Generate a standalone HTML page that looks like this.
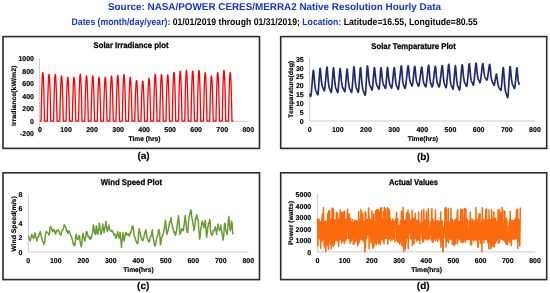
<!DOCTYPE html>
<html><head><meta charset="utf-8"><title>NASA POWER hourly data plots</title>
<style>
html,body{margin:0;padding:0;background:#fff;}
body{width:550px;height:293px;overflow:hidden;}
svg{display:block;font-family:"Liberation Sans", Arial, sans-serif;font-weight:bold;text-rendering:geometricPrecision;}
</style></head><body>
<svg width="550" height="293" viewBox="0 0 550 293">
<rect width="550" height="293" fill="#fff"/>
<text x="108" y="10.4" font-size="10" fill="#1434d6" textLength="333" lengthAdjust="spacingAndGlyphs">Source: NASA/POWER CERES/MERRA2 Native Resolution Hourly Data</text>
<text x="71.6" y="24.5" font-size="9.6" fill="#000" textLength="406" lengthAdjust="spacingAndGlyphs"><tspan fill="#1434d6">Dates (month/day/year):</tspan> 01/01/2019 through 01/31/2019; <tspan fill="#1434d6">Location:</tspan> Latitude=16.55, Longitude=80.55</text>
<g stroke="#000" stroke-width="0.15">
<rect x="3" y="36.6" width="256.5" height="111.8" fill="none" stroke="#2b2b2b" stroke-width="1.6"/>
<rect x="280.7" y="36.6" width="266.0" height="111.8" fill="none" stroke="#2b2b2b" stroke-width="1.6"/>
<rect x="3" y="172.8" width="256.5" height="106.8" fill="none" stroke="#2b2b2b" stroke-width="1.6"/>
<rect x="280.7" y="172.8" width="266.0" height="106.8" fill="none" stroke="#2b2b2b" stroke-width="1.6"/>
<line x1="39.4" y1="58.4" x2="39.4" y2="133.4" stroke="#bfbfbf" stroke-width="0.8"/>
<line x1="39.4" y1="121.3" x2="248.5" y2="121.3" stroke="#bfbfbf" stroke-width="0.8"/>
<polyline points="40.00,121.10 40.07,121.10 40.13,121.10 40.20,121.10 40.26,121.10 40.33,121.10 40.39,121.10 40.46,121.10 40.52,121.10 40.59,121.10 40.65,121.10 40.72,121.10 40.78,121.10 40.85,121.10 40.91,121.10 40.98,121.10 41.04,121.10 41.11,119.08 41.17,115.24 41.24,111.85 41.30,108.70 41.37,105.73 41.43,102.89 41.50,100.19 41.56,97.61 41.63,95.15 41.69,92.80 41.76,90.57 41.82,88.46 41.89,86.48 41.95,84.61 42.02,82.87 42.08,81.26 42.15,79.78 42.21,78.44 42.28,77.22 42.34,76.15 42.41,75.21 42.47,74.42 42.54,73.76 42.60,73.26 42.67,72.89 42.73,72.67 42.80,72.60 42.86,72.67 42.93,72.89 42.99,73.26 43.06,73.76 43.12,74.42 43.19,75.21 43.25,76.15 43.32,77.22 43.38,78.44 43.45,79.78 43.51,81.26 43.58,82.87 43.64,84.61 43.71,86.48 43.77,88.46 43.84,90.57 43.90,92.80 43.97,95.15 44.03,97.61 44.10,100.19 44.16,102.89 44.23,105.73 44.29,108.70 44.36,111.85 44.43,115.24 44.49,119.08 44.56,121.10 44.62,121.10 44.69,121.10 44.75,121.10 44.82,121.10 44.88,121.10 44.95,121.10 45.01,121.10 45.08,121.10 45.14,121.10 45.21,121.10 45.27,121.10 45.34,121.10 45.40,121.10 45.47,121.10 45.53,121.10 45.60,121.10 45.66,121.10 45.73,121.10 45.79,121.10 45.86,121.10 45.92,121.10 45.99,121.10 46.05,121.10 46.12,121.10 46.18,121.10 46.25,121.10 46.31,121.10 46.38,121.10 46.44,121.10 46.51,121.10 46.57,121.10 46.64,121.10 46.70,121.10 46.77,121.10 46.83,121.10 46.90,121.10 46.96,121.10 47.03,121.10 47.09,121.10 47.16,121.10 47.22,121.10 47.29,121.10 47.35,119.15 47.42,115.46 47.48,112.20 47.55,109.17 47.61,106.30 47.68,103.57 47.74,100.97 47.81,98.49 47.87,96.12 47.94,93.86 48.00,91.71 48.07,89.68 48.13,87.77 48.20,85.98 48.26,84.30 48.33,82.75 48.39,81.33 48.46,80.03 48.52,78.86 48.59,77.83 48.65,76.93 48.72,76.16 48.79,75.53 48.85,75.04 48.92,74.69 48.98,74.48 49.05,74.41 49.11,74.48 49.18,74.69 49.24,75.04 49.31,75.53 49.37,76.16 49.44,76.93 49.50,77.83 49.57,78.86 49.63,80.03 49.70,81.33 49.76,82.75 49.83,84.30 49.89,85.98 49.96,87.77 50.02,89.68 50.09,91.71 50.15,93.86 50.22,96.12 50.28,98.49 50.35,100.97 50.41,103.57 50.48,106.30 50.54,109.17 50.61,112.20 50.67,115.46 50.74,119.15 50.80,121.10 50.87,121.10 50.93,121.10 51.00,121.10 51.06,121.10 51.13,121.10 51.19,121.10 51.26,121.10 51.32,121.10 51.39,121.10 51.45,121.10 51.52,121.10 51.58,121.10 51.65,121.10 51.71,121.10 51.78,121.10 51.84,121.10 51.91,121.10 51.97,121.10 52.04,121.10 52.10,121.10 52.17,121.10 52.23,121.10 52.30,121.10 52.36,121.10 52.43,121.10 52.49,121.10 52.56,121.10 52.62,121.10 52.69,121.10 52.75,121.10 52.82,121.10 52.88,121.10 52.95,121.10 53.02,121.10 53.08,121.10 53.15,121.10 53.21,121.10 53.28,121.10 53.34,121.10 53.41,121.10 53.47,121.10 53.54,121.10 53.60,119.15 53.67,115.46 53.73,112.20 53.80,109.17 53.86,106.30 53.93,103.57 53.99,100.97 54.06,98.49 54.12,96.12 54.19,93.86 54.25,91.71 54.32,89.68 54.38,87.77 54.45,85.98 54.51,84.30 54.58,82.75 54.64,81.33 54.71,80.03 54.77,78.86 54.84,77.83 54.90,76.93 54.97,76.16 55.03,75.53 55.10,75.04 55.16,74.69 55.23,74.48 55.29,74.41 55.36,74.48 55.42,74.69 55.49,75.04 55.55,75.53 55.62,76.16 55.68,76.93 55.75,77.83 55.81,78.86 55.88,80.03 55.94,81.33 56.01,82.75 56.07,84.30 56.14,85.98 56.20,87.77 56.27,89.68 56.33,91.71 56.40,93.86 56.46,96.12 56.53,98.49 56.59,100.97 56.66,103.57 56.72,106.30 56.79,109.17 56.85,112.20 56.92,115.46 56.98,119.15 57.05,121.10 57.11,121.10 57.18,121.10 57.24,121.10 57.31,121.10 57.38,121.10 57.44,121.10 57.51,121.10 57.57,121.10 57.64,121.10 57.70,121.10 57.77,121.10 57.83,121.10 57.90,121.10 57.96,121.10 58.03,121.10 58.09,121.10 58.16,121.10 58.22,121.10 58.29,121.10 58.35,121.10 58.42,121.10 58.48,121.10 58.55,121.10 58.61,121.10 58.68,121.10 58.74,121.10 58.81,121.10 58.87,121.10 58.94,121.10 59.00,121.10 59.07,121.10 59.13,121.10 59.20,121.10 59.26,121.10 59.33,121.10 59.39,121.10 59.46,121.10 59.52,121.10 59.59,121.10 59.65,121.10 59.72,121.10 59.78,121.10 59.85,119.22 59.91,115.65 59.98,112.50 60.04,109.57 60.11,106.80 60.17,104.16 60.24,101.64 60.30,99.24 60.37,96.95 60.43,94.77 60.50,92.70 60.56,90.74 60.63,88.89 60.69,87.15 60.76,85.53 60.82,84.04 60.89,82.66 60.95,81.40 61.02,80.28 61.08,79.28 61.15,78.41 61.21,77.67 61.28,77.06 61.34,76.59 61.41,76.25 61.47,76.04 61.54,75.97 61.60,76.04 61.67,76.25 61.74,76.59 61.80,77.06 61.87,77.67 61.93,78.41 62.00,79.28 62.06,80.28 62.13,81.40 62.19,82.66 62.26,84.04 62.32,85.53 62.39,87.15 62.45,88.89 62.52,90.74 62.58,92.70 62.65,94.77 62.71,96.95 62.78,99.24 62.84,101.64 62.91,104.16 62.97,106.80 63.04,109.57 63.10,112.50 63.17,115.65 63.23,119.22 63.30,121.10 63.36,121.10 63.43,121.10 63.49,121.10 63.56,121.10 63.62,121.10 63.69,121.10 63.75,121.10 63.82,121.10 63.88,121.10 63.95,121.10 64.01,121.10 64.08,121.10 64.14,121.10 64.21,121.10 64.27,121.10 64.34,121.10 64.40,121.10 64.47,121.10 64.53,121.10 64.60,121.10 64.66,121.10 64.73,121.10 64.79,121.10 64.86,121.10 64.92,121.10 64.99,121.10 65.05,121.10 65.12,121.10 65.18,121.10 65.25,121.10 65.31,121.10 65.38,121.10 65.44,121.10 65.51,121.10 65.57,121.10 65.64,121.10 65.70,121.10 65.77,121.10 65.83,121.10 65.90,121.10 65.96,121.10 66.03,121.10 66.10,119.27 66.16,115.81 66.23,112.75 66.29,109.90 66.36,107.21 66.42,104.65 66.49,102.21 66.55,99.88 66.62,97.65 66.68,95.54 66.75,93.52 66.81,91.62 66.88,89.82 66.94,88.14 67.01,86.57 67.07,85.11 67.14,83.78 67.20,82.56 67.27,81.46 67.33,80.49 67.40,79.65 67.46,78.93 67.53,78.34 67.59,77.88 67.66,77.55 67.72,77.35 67.79,77.29 67.85,77.35 67.92,77.55 67.98,77.88 68.05,78.34 68.11,78.93 68.18,79.65 68.24,80.49 68.31,81.46 68.37,82.56 68.44,83.78 68.50,85.11 68.57,86.57 68.63,88.14 68.70,89.82 68.76,91.62 68.83,93.52 68.89,95.54 68.96,97.65 69.02,99.88 69.09,102.21 69.15,104.65 69.22,107.21 69.28,109.90 69.35,112.75 69.41,115.81 69.48,119.27 69.54,121.10 69.61,121.10 69.67,121.10 69.74,121.10 69.80,121.10 69.87,121.10 69.93,121.10 70.00,121.10 70.06,121.10 70.13,121.10 70.19,121.10 70.26,121.10 70.32,121.10 70.39,121.10 70.46,121.10 70.52,121.10 70.59,121.10 70.65,121.10 70.72,121.10 70.78,121.10 70.85,121.10 70.91,121.10 70.98,121.10 71.04,121.10 71.11,121.10 71.17,121.10 71.24,121.10 71.30,121.10 71.37,121.10 71.43,121.10 71.50,121.10 71.56,121.10 71.63,121.10 71.69,121.10 71.76,121.10 71.82,121.10 71.89,121.10 71.95,121.10 72.02,121.10 72.08,121.10 72.15,121.10 72.21,121.10 72.28,121.10 72.34,119.27 72.41,115.81 72.47,112.75 72.54,109.90 72.60,107.21 72.67,104.65 72.73,102.21 72.80,99.88 72.86,97.65 72.93,95.54 72.99,93.52 73.06,91.62 73.12,89.82 73.19,88.14 73.25,86.57 73.32,85.11 73.38,83.78 73.45,82.56 73.51,81.46 73.58,80.49 73.64,79.65 73.71,78.93 73.77,78.34 73.84,77.88 73.90,77.55 73.97,77.35 74.03,77.29 74.10,77.35 74.16,77.55 74.23,77.88 74.29,78.34 74.36,78.93 74.42,79.65 74.49,80.49 74.55,81.46 74.62,82.56 74.68,83.78 74.75,85.11 74.82,86.57 74.88,88.14 74.95,89.82 75.01,91.62 75.08,93.52 75.14,95.54 75.21,97.65 75.27,99.88 75.34,102.21 75.40,104.65 75.47,107.21 75.53,109.90 75.60,112.75 75.66,115.81 75.73,119.27 75.79,121.10 75.86,121.10 75.92,121.10 75.99,121.10 76.05,121.10 76.12,121.10 76.18,121.10 76.25,121.10 76.31,121.10 76.38,121.10 76.44,121.10 76.51,121.10 76.57,121.10 76.64,121.10 76.70,121.10 76.77,121.10 76.83,121.10 76.90,121.10 76.96,121.10 77.03,121.10 77.09,121.10 77.16,121.10 77.22,121.10 77.29,121.10 77.35,121.10 77.42,121.10 77.48,121.10 77.55,121.10 77.61,121.10 77.68,121.10 77.74,121.10 77.81,121.10 77.87,121.10 77.94,121.10 78.00,121.10 78.07,121.10 78.13,121.10 78.20,121.10 78.26,121.10 78.33,121.10 78.39,121.10 78.46,121.10 78.52,121.10 78.59,119.15 78.65,115.44 78.72,112.16 78.78,109.12 78.85,106.24 78.91,103.50 78.98,100.89 79.04,98.40 79.11,96.01 79.18,93.75 79.24,91.60 79.31,89.56 79.37,87.64 79.44,85.83 79.50,84.15 79.57,82.60 79.63,81.17 79.70,79.86 79.76,78.69 79.83,77.65 79.89,76.75 79.96,75.98 80.02,75.35 80.09,74.86 80.15,74.51 80.22,74.30 80.28,74.22 80.35,74.30 80.41,74.51 80.48,74.86 80.54,75.35 80.61,75.98 80.67,76.75 80.74,77.65 80.80,78.69 80.87,79.86 80.93,81.17 81.00,82.60 81.06,84.15 81.13,85.83 81.19,87.64 81.26,89.56 81.32,91.60 81.39,93.75 81.45,96.01 81.52,98.40 81.58,100.89 81.65,103.50 81.71,106.24 81.78,109.12 81.84,112.16 81.91,115.44 81.97,119.15 82.04,121.10 82.10,121.10 82.17,121.10 82.23,121.10 82.30,121.10 82.36,121.10 82.43,121.10 82.49,121.10 82.56,121.10 82.62,121.10 82.69,121.10 82.75,121.10 82.82,121.10 82.88,121.10 82.95,121.10 83.01,121.10 83.08,121.10 83.14,121.10 83.21,121.10 83.27,121.10 83.34,121.10 83.41,121.10 83.47,121.10 83.54,121.10 83.60,121.10 83.67,121.10 83.73,121.10 83.80,121.10 83.86,121.10 83.93,121.10 83.99,121.10 84.06,121.10 84.12,121.10 84.19,121.10 84.25,121.10 84.32,121.10 84.38,121.10 84.45,121.10 84.51,121.10 84.58,121.10 84.64,121.10 84.71,121.10 84.77,121.10 84.84,119.22 84.90,115.65 84.97,112.50 85.03,109.57 85.10,106.80 85.16,104.16 85.23,101.64 85.29,99.24 85.36,96.95 85.42,94.77 85.49,92.70 85.55,90.74 85.62,88.89 85.68,87.15 85.75,85.53 85.81,84.04 85.88,82.66 85.94,81.40 86.01,80.28 86.07,79.28 86.14,78.41 86.20,77.67 86.27,77.06 86.33,76.59 86.40,76.25 86.46,76.04 86.53,75.97 86.59,76.04 86.66,76.25 86.72,76.59 86.79,77.06 86.85,77.67 86.92,78.41 86.98,79.28 87.05,80.28 87.11,81.40 87.18,82.66 87.24,84.04 87.31,85.53 87.37,87.15 87.44,88.89 87.50,90.74 87.57,92.70 87.63,94.77 87.70,96.95 87.77,99.24 87.83,101.64 87.90,104.16 87.96,106.80 88.03,109.57 88.09,112.50 88.16,115.65 88.22,119.22 88.29,121.10 88.35,121.10 88.42,121.10 88.48,121.10 88.55,121.10 88.61,121.10 88.68,121.10 88.74,121.10 88.81,121.10 88.87,121.10 88.94,121.10 89.00,121.10 89.07,121.10 89.13,121.10 89.20,121.10 89.26,121.10 89.33,121.10 89.39,121.10 89.46,121.10 89.52,121.10 89.59,121.10 89.65,121.10 89.72,121.10 89.78,121.10 89.85,121.10 89.91,121.10 89.98,121.10 90.04,121.10 90.11,121.10 90.17,121.10 90.24,121.10 90.30,121.10 90.37,121.10 90.43,121.10 90.50,121.10 90.56,121.10 90.63,121.10 90.69,121.10 90.76,121.10 90.82,121.10 90.89,121.10 90.95,121.10 91.02,121.10 91.08,119.22 91.15,115.65 91.21,112.50 91.28,109.57 91.34,106.80 91.41,104.16 91.47,101.64 91.54,99.24 91.60,96.95 91.67,94.77 91.73,92.70 91.80,90.74 91.86,88.89 91.93,87.15 91.99,85.53 92.06,84.04 92.13,82.66 92.19,81.40 92.26,80.28 92.32,79.28 92.39,78.41 92.45,77.67 92.52,77.06 92.58,76.59 92.65,76.25 92.71,76.04 92.78,75.97 92.84,76.04 92.91,76.25 92.97,76.59 93.04,77.06 93.10,77.67 93.17,78.41 93.23,79.28 93.30,80.28 93.36,81.40 93.43,82.66 93.49,84.04 93.56,85.53 93.62,87.15 93.69,88.89 93.75,90.74 93.82,92.70 93.88,94.77 93.95,96.95 94.01,99.24 94.08,101.64 94.14,104.16 94.21,106.80 94.27,109.57 94.34,112.50 94.40,115.65 94.47,119.22 94.53,121.10 94.60,121.10 94.66,121.10 94.73,121.10 94.79,121.10 94.86,121.10 94.92,121.10 94.99,121.10 95.05,121.10 95.12,121.10 95.18,121.10 95.25,121.10 95.31,121.10 95.38,121.10 95.44,121.10 95.51,121.10 95.57,121.10 95.64,121.10 95.70,121.10 95.77,121.10 95.83,121.10 95.90,121.10 95.96,121.10 96.03,121.10 96.09,121.10 96.16,121.10 96.22,121.10 96.29,121.10 96.35,121.10 96.42,121.10 96.49,121.10 96.55,121.10 96.62,121.10 96.68,121.10 96.75,121.10 96.81,121.10 96.88,121.10 96.94,121.10 97.01,121.10 97.07,121.10 97.14,121.10 97.20,121.10 97.27,121.10 97.33,119.27 97.40,115.81 97.46,112.75 97.53,109.90 97.59,107.21 97.66,104.65 97.72,102.21 97.79,99.88 97.85,97.65 97.92,95.54 97.98,93.52 98.05,91.62 98.11,89.82 98.18,88.14 98.24,86.57 98.31,85.11 98.37,83.78 98.44,82.56 98.50,81.46 98.57,80.49 98.63,79.65 98.70,78.93 98.76,78.34 98.83,77.88 98.89,77.55 98.96,77.35 99.02,77.29 99.09,77.35 99.15,77.55 99.22,77.88 99.28,78.34 99.35,78.93 99.41,79.65 99.48,80.49 99.54,81.46 99.61,82.56 99.67,83.78 99.74,85.11 99.80,86.57 99.87,88.14 99.93,89.82 100.00,91.62 100.06,93.52 100.13,95.54 100.19,97.65 100.26,99.88 100.32,102.21 100.39,104.65 100.45,107.21 100.52,109.90 100.58,112.75 100.65,115.81 100.71,119.27 100.78,121.10 100.85,121.10 100.91,121.10 100.98,121.10 101.04,121.10 101.11,121.10 101.17,121.10 101.24,121.10 101.30,121.10 101.37,121.10 101.43,121.10 101.50,121.10 101.56,121.10 101.63,121.10 101.69,121.10 101.76,121.10 101.82,121.10 101.89,121.10 101.95,121.10 102.02,121.10 102.08,121.10 102.15,121.10 102.21,121.10 102.28,121.10 102.34,121.10 102.41,121.10 102.47,121.10 102.54,121.10 102.60,121.10 102.67,121.10 102.73,121.10 102.80,121.10 102.86,121.10 102.93,121.10 102.99,121.10 103.06,121.10 103.12,121.10 103.19,121.10 103.25,121.10 103.32,121.10 103.38,121.10 103.45,121.10 103.51,121.10 103.58,119.27 103.64,115.81 103.71,112.75 103.77,109.90 103.84,107.21 103.90,104.65 103.97,102.21 104.03,99.88 104.10,97.65 104.16,95.54 104.23,93.52 104.29,91.62 104.36,89.82 104.42,88.14 104.49,86.57 104.55,85.11 104.62,83.78 104.68,82.56 104.75,81.46 104.81,80.49 104.88,79.65 104.94,78.93 105.01,78.34 105.07,77.88 105.14,77.55 105.21,77.35 105.27,77.29 105.34,77.35 105.40,77.55 105.47,77.88 105.53,78.34 105.60,78.93 105.66,79.65 105.73,80.49 105.79,81.46 105.86,82.56 105.92,83.78 105.99,85.11 106.05,86.57 106.12,88.14 106.18,89.82 106.25,91.62 106.31,93.52 106.38,95.54 106.44,97.65 106.51,99.88 106.57,102.21 106.64,104.65 106.70,107.21 106.77,109.90 106.83,112.75 106.90,115.81 106.96,119.27 107.03,121.10 107.09,121.10 107.16,121.10 107.22,121.10 107.29,121.10 107.35,121.10 107.42,121.10 107.48,121.10 107.55,121.10 107.61,121.10 107.68,121.10 107.74,121.10 107.81,121.10 107.87,121.10 107.94,121.10 108.00,121.10 108.07,121.10 108.13,121.10 108.20,121.10 108.26,121.10 108.33,121.10 108.39,121.10 108.46,121.10 108.52,121.10 108.59,121.10 108.65,121.10 108.72,121.10 108.78,121.10 108.85,121.10 108.91,121.10 108.98,121.10 109.04,121.10 109.11,121.10 109.17,121.10 109.24,121.10 109.30,121.10 109.37,121.10 109.44,121.10 109.50,121.10 109.57,121.10 109.63,121.10 109.70,121.10 109.76,121.10 109.83,119.22 109.89,115.65 109.96,112.50 110.02,109.57 110.09,106.80 110.15,104.16 110.22,101.64 110.28,99.24 110.35,96.95 110.41,94.77 110.48,92.70 110.54,90.74 110.61,88.89 110.67,87.15 110.74,85.53 110.80,84.04 110.87,82.66 110.93,81.40 111.00,80.28 111.06,79.28 111.13,78.41 111.19,77.67 111.26,77.06 111.32,76.59 111.39,76.25 111.45,76.04 111.52,75.97 111.58,76.04 111.65,76.25 111.71,76.59 111.78,77.06 111.84,77.67 111.91,78.41 111.97,79.28 112.04,80.28 112.10,81.40 112.17,82.66 112.23,84.04 112.30,85.53 112.36,87.15 112.43,88.89 112.49,90.74 112.56,92.70 112.62,94.77 112.69,96.95 112.75,99.24 112.82,101.64 112.88,104.16 112.95,106.80 113.01,109.57 113.08,112.50 113.14,115.65 113.21,119.22 113.27,121.10 113.34,121.10 113.40,121.10 113.47,121.10 113.53,121.10 113.60,121.10 113.66,121.10 113.73,121.10 113.80,121.10 113.86,121.10 113.93,121.10 113.99,121.10 114.06,121.10 114.12,121.10 114.19,121.10 114.25,121.10 114.32,121.10 114.38,121.10 114.45,121.10 114.51,121.10 114.58,121.10 114.64,121.10 114.71,121.10 114.77,121.10 114.84,121.10 114.90,121.10 114.97,121.10 115.03,121.10 115.10,121.10 115.16,121.10 115.23,121.10 115.29,121.10 115.36,121.10 115.42,121.10 115.49,121.10 115.55,121.10 115.62,121.10 115.68,121.10 115.75,121.10 115.81,121.10 115.88,121.10 115.94,121.10 116.01,121.10 116.07,119.20 116.14,115.59 116.20,112.40 116.27,109.44 116.33,106.64 116.40,103.97 116.46,101.43 116.53,99.00 116.59,96.68 116.66,94.48 116.72,92.38 116.79,90.40 116.85,88.53 116.92,86.78 116.98,85.14 117.05,83.62 117.11,82.23 117.18,80.96 117.24,79.82 117.31,78.81 117.37,77.93 117.44,77.18 117.50,76.57 117.57,76.09 117.63,75.75 117.70,75.54 117.76,75.47 117.83,75.54 117.89,75.75 117.96,76.09 118.02,76.57 118.09,77.18 118.16,77.93 118.22,78.81 118.29,79.82 118.35,80.96 118.42,82.23 118.48,83.62 118.55,85.14 118.61,86.78 118.68,88.53 118.74,90.40 118.81,92.38 118.87,94.48 118.94,96.68 119.00,99.00 119.07,101.43 119.13,103.97 119.20,106.64 119.26,109.44 119.33,112.40 119.39,115.59 119.46,119.20 119.52,121.10 119.59,121.10 119.65,121.10 119.72,121.10 119.78,121.10 119.85,121.10 119.91,121.10 119.98,121.10 120.04,121.10 120.11,121.10 120.17,121.10 120.24,121.10 120.30,121.10 120.37,121.10 120.43,121.10 120.50,121.10 120.56,121.10 120.63,121.10 120.69,121.10 120.76,121.10 120.82,121.10 120.89,121.10 120.95,121.10 121.02,121.10 121.08,121.10 121.15,121.10 121.21,121.10 121.28,121.10 121.34,121.10 121.41,121.10 121.47,121.10 121.54,121.10 121.60,121.10 121.67,121.10 121.73,121.10 121.80,121.10 121.86,121.10 121.93,121.10 121.99,121.10 122.06,121.10 122.12,121.10 122.19,121.10 122.25,121.10 122.32,119.16 122.38,115.48 122.45,112.23 122.52,109.21 122.58,106.36 122.65,103.64 122.71,101.05 122.78,98.58 122.84,96.22 122.91,93.97 122.97,91.83 123.04,89.81 123.10,87.90 123.17,86.12 123.23,84.45 123.30,82.91 123.36,81.49 123.43,80.19 123.49,79.03 123.56,78.00 123.62,77.10 123.69,76.34 123.75,75.72 123.82,75.23 123.88,74.88 123.95,74.67 124.01,74.60 124.08,74.67 124.14,74.88 124.21,75.23 124.27,75.72 124.34,76.34 124.40,77.10 124.47,78.00 124.53,79.03 124.60,80.19 124.66,81.49 124.73,82.91 124.79,84.45 124.86,86.12 124.92,87.90 124.99,89.81 125.05,91.83 125.12,93.97 125.18,96.22 125.25,98.58 125.31,101.05 125.38,103.64 125.44,106.36 125.51,109.21 125.57,112.23 125.64,115.48 125.70,119.16 125.77,121.10 125.83,121.10 125.90,121.10 125.96,121.10 126.03,121.10 126.09,121.10 126.16,121.10 126.22,121.10 126.29,121.10 126.35,121.10 126.42,121.10 126.48,121.10 126.55,121.10 126.61,121.10 126.68,121.10 126.74,121.10 126.81,121.10 126.88,121.10 126.94,121.10 127.01,121.10 127.07,121.10 127.14,121.10 127.20,121.10 127.27,121.10 127.33,121.10 127.40,121.10 127.46,121.10 127.53,121.10 127.59,121.10 127.66,121.10 127.72,121.10 127.79,121.10 127.85,121.10 127.92,121.10 127.98,121.10 128.05,121.10 128.11,121.10 128.18,121.10 128.24,121.10 128.31,121.10 128.37,121.10 128.44,121.10 128.50,121.10 128.57,119.27 128.63,115.81 128.70,112.75 128.76,109.90 128.83,107.21 128.89,104.65 128.96,102.21 129.02,99.88 129.09,97.65 129.15,95.54 129.22,93.52 129.28,91.62 129.35,89.82 129.41,88.14 129.48,86.57 129.54,85.11 129.61,83.78 129.67,82.56 129.74,81.46 129.80,80.49 129.87,79.65 129.93,78.93 130.00,78.34 130.06,77.88 130.13,77.55 130.19,77.35 130.26,77.29 130.32,77.35 130.39,77.55 130.45,77.88 130.52,78.34 130.58,78.93 130.65,79.65 130.71,80.49 130.78,81.46 130.84,82.56 130.91,83.78 130.97,85.11 131.04,86.57 131.10,88.14 131.17,89.82 131.24,91.62 131.30,93.52 131.37,95.54 131.43,97.65 131.50,99.88 131.56,102.21 131.63,104.65 131.69,107.21 131.76,109.90 131.82,112.75 131.89,115.81 131.95,119.27 132.02,121.10 132.08,121.10 132.15,121.10 132.21,121.10 132.28,121.10 132.34,121.10 132.41,121.10 132.47,121.10 132.54,121.10 132.60,121.10 132.67,121.10 132.73,121.10 132.80,121.10 132.86,121.10 132.93,121.10 132.99,121.10 133.06,121.10 133.12,121.10 133.19,121.10 133.25,121.10 133.32,121.10 133.38,121.10 133.45,121.10 133.51,121.10 133.58,121.10 133.64,121.10 133.71,121.10 133.77,121.10 133.84,121.10 133.90,121.10 133.97,121.10 134.03,121.10 134.10,121.10 134.16,121.10 134.23,121.10 134.29,121.10 134.36,121.10 134.42,121.10 134.49,121.10 134.55,121.10 134.62,121.10 134.68,121.10 134.75,121.10 134.81,119.40 134.88,116.18 134.94,113.34 135.01,110.70 135.07,108.20 135.14,105.83 135.20,103.56 135.27,101.39 135.33,99.33 135.40,97.36 135.47,95.49 135.53,93.72 135.60,92.05 135.66,90.49 135.73,89.03 135.79,87.68 135.86,86.44 135.92,85.31 135.99,84.29 136.05,83.39 136.12,82.60 136.18,81.94 136.25,81.39 136.31,80.96 136.38,80.66 136.44,80.47 136.51,80.41 136.57,80.47 136.64,80.66 136.70,80.96 136.77,81.39 136.83,81.94 136.90,82.60 136.96,83.39 137.03,84.29 137.09,85.31 137.16,86.44 137.22,87.68 137.29,89.03 137.35,90.49 137.42,92.05 137.48,93.72 137.55,95.49 137.61,97.36 137.68,99.33 137.74,101.39 137.81,103.56 137.87,105.83 137.94,108.20 138.00,110.70 138.07,113.34 138.13,116.18 138.20,119.40 138.26,121.10 138.33,121.10 138.39,121.10 138.46,121.10 138.52,121.10 138.59,121.10 138.65,121.10 138.72,121.10 138.78,121.10 138.85,121.10 138.91,121.10 138.98,121.10 139.04,121.10 139.11,121.10 139.17,121.10 139.24,121.10 139.30,121.10 139.37,121.10 139.43,121.10 139.50,121.10 139.56,121.10 139.63,121.10 139.69,121.10 139.76,121.10 139.83,121.10 139.89,121.10 139.96,121.10 140.02,121.10 140.09,121.10 140.15,121.10 140.22,121.10 140.28,121.10 140.35,121.10 140.41,121.10 140.48,121.10 140.54,121.10 140.61,121.10 140.67,121.10 140.74,121.10 140.80,121.10 140.87,121.10 140.93,121.10 141.00,121.10 141.06,119.43 141.13,116.27 141.19,113.47 141.26,110.88 141.32,108.42 141.39,106.08 141.45,103.85 141.52,101.73 141.58,99.69 141.65,97.76 141.71,95.92 141.78,94.18 141.84,92.54 141.91,91.01 141.97,89.57 142.04,88.24 142.10,87.02 142.17,85.91 142.23,84.91 142.30,84.03 142.36,83.25 142.43,82.60 142.49,82.06 142.56,81.64 142.62,81.34 142.69,81.16 142.75,81.10 142.82,81.16 142.88,81.34 142.95,81.64 143.01,82.06 143.08,82.60 143.14,83.25 143.21,84.03 143.27,84.91 143.34,85.91 143.40,87.02 143.47,88.24 143.53,89.57 143.60,91.01 143.66,92.54 143.73,94.18 143.79,95.92 143.86,97.76 143.92,99.69 143.99,101.73 144.05,103.85 144.12,106.08 144.19,108.42 144.25,110.88 144.32,113.47 144.38,116.27 144.45,119.43 144.51,121.10 144.58,121.10 144.64,121.10 144.71,121.10 144.77,121.10 144.84,121.10 144.90,121.10 144.97,121.10 145.03,121.10 145.10,121.10 145.16,121.10 145.23,121.10 145.29,121.10 145.36,121.10 145.42,121.10 145.49,121.10 145.55,121.10 145.62,121.10 145.68,121.10 145.75,121.10 145.81,121.10 145.88,121.10 145.94,121.10 146.01,121.10 146.07,121.10 146.14,121.10 146.20,121.10 146.27,121.10 146.33,121.10 146.40,121.10 146.46,121.10 146.53,121.10 146.59,121.10 146.66,121.10 146.72,121.10 146.79,121.10 146.85,121.10 146.92,121.10 146.98,121.10 147.05,121.10 147.11,121.10 147.18,121.10 147.24,121.10 147.31,119.32 147.37,115.94 147.44,112.96 147.50,110.19 147.57,107.57 147.63,105.07 147.70,102.70 147.76,100.42 147.83,98.26 147.89,96.19 147.96,94.23 148.02,92.38 148.09,90.63 148.15,88.99 148.22,87.45 148.28,86.04 148.35,84.73 148.41,83.55 148.48,82.48 148.55,81.53 148.61,80.71 148.68,80.01 148.74,79.44 148.81,78.99 148.87,78.67 148.94,78.48 149.00,78.41 149.07,78.48 149.13,78.67 149.20,78.99 149.26,79.44 149.33,80.01 149.39,80.71 149.46,81.53 149.52,82.48 149.59,83.55 149.65,84.73 149.72,86.04 149.78,87.45 149.85,88.99 149.91,90.63 149.98,92.38 150.04,94.23 150.11,96.19 150.17,98.26 150.24,100.42 150.30,102.70 150.37,105.07 150.43,107.57 150.50,110.19 150.56,112.96 150.63,115.94 150.69,119.32 150.76,121.10 150.82,121.10 150.89,121.10 150.95,121.10 151.02,121.10 151.08,121.10 151.15,121.10 151.21,121.10 151.28,121.10 151.34,121.10 151.41,121.10 151.47,121.10 151.54,121.10 151.60,121.10 151.67,121.10 151.73,121.10 151.80,121.10 151.86,121.10 151.93,121.10 151.99,121.10 152.06,121.10 152.12,121.10 152.19,121.10 152.25,121.10 152.32,121.10 152.38,121.10 152.45,121.10 152.51,121.10 152.58,121.10 152.64,121.10 152.71,121.10 152.77,121.10 152.84,121.10 152.91,121.10 152.97,121.10 153.04,121.10 153.10,121.10 153.17,121.10 153.23,121.10 153.30,121.10 153.36,121.10 153.43,121.10 153.49,121.10 153.56,119.15 153.62,115.46 153.69,112.20 153.75,109.17 153.82,106.30 153.88,103.57 153.95,100.97 154.01,98.49 154.08,96.12 154.14,93.86 154.21,91.71 154.27,89.68 154.34,87.77 154.40,85.98 154.47,84.30 154.53,82.75 154.60,81.33 154.66,80.03 154.73,78.86 154.79,77.83 154.86,76.93 154.92,76.16 154.99,75.53 155.05,75.04 155.12,74.69 155.18,74.48 155.25,74.41 155.31,74.48 155.38,74.69 155.44,75.04 155.51,75.53 155.57,76.16 155.64,76.93 155.70,77.83 155.77,78.86 155.83,80.03 155.90,81.33 155.96,82.75 156.03,84.30 156.09,85.98 156.16,87.77 156.22,89.68 156.29,91.71 156.35,93.86 156.42,96.12 156.48,98.49 156.55,100.97 156.61,103.57 156.68,106.30 156.74,109.17 156.81,112.20 156.87,115.46 156.94,119.15 157.00,121.10 157.07,121.10 157.13,121.10 157.20,121.10 157.27,121.10 157.33,121.10 157.40,121.10 157.46,121.10 157.53,121.10 157.59,121.10 157.66,121.10 157.72,121.10 157.79,121.10 157.85,121.10 157.92,121.10 157.98,121.10 158.05,121.10 158.11,121.10 158.18,121.10 158.24,121.10 158.31,121.10 158.37,121.10 158.44,121.10 158.50,121.10 158.57,121.10 158.63,121.10 158.70,121.10 158.76,121.10 158.83,121.10 158.89,121.10 158.96,121.10 159.02,121.10 159.09,121.10 159.15,121.10 159.22,121.10 159.28,121.10 159.35,121.10 159.41,121.10 159.48,121.10 159.54,121.10 159.61,121.10 159.67,121.10 159.74,121.10 159.80,119.15 159.87,115.46 159.93,112.20 160.00,109.17 160.06,106.30 160.13,103.57 160.19,100.97 160.26,98.49 160.32,96.12 160.39,93.86 160.45,91.71 160.52,89.68 160.58,87.77 160.65,85.98 160.71,84.30 160.78,82.75 160.84,81.33 160.91,80.03 160.97,78.86 161.04,77.83 161.10,76.93 161.17,76.16 161.23,75.53 161.30,75.04 161.36,74.69 161.43,74.48 161.50,74.41 161.56,74.48 161.63,74.69 161.69,75.04 161.76,75.53 161.82,76.16 161.89,76.93 161.95,77.83 162.02,78.86 162.08,80.03 162.15,81.33 162.21,82.75 162.28,84.30 162.34,85.98 162.41,87.77 162.47,89.68 162.54,91.71 162.60,93.86 162.67,96.12 162.73,98.49 162.80,100.97 162.86,103.57 162.93,106.30 162.99,109.17 163.06,112.20 163.12,115.46 163.19,119.15 163.25,121.10 163.32,121.10 163.38,121.10 163.45,121.10 163.51,121.10 163.58,121.10 163.64,121.10 163.71,121.10 163.77,121.10 163.84,121.10 163.90,121.10 163.97,121.10 164.03,121.10 164.10,121.10 164.16,121.10 164.23,121.10 164.29,121.10 164.36,121.10 164.42,121.10 164.49,121.10 164.55,121.10 164.62,121.10 164.68,121.10 164.75,121.10 164.81,121.10 164.88,121.10 164.94,121.10 165.01,121.10 165.07,121.10 165.14,121.10 165.20,121.10 165.27,121.10 165.33,121.10 165.40,121.10 165.46,121.10 165.53,121.10 165.59,121.10 165.66,121.10 165.72,121.10 165.79,121.10 165.86,121.10 165.92,121.10 165.99,121.10 166.05,119.17 166.12,115.52 166.18,112.29 166.25,109.29 166.31,106.46 166.38,103.76 166.44,101.19 166.51,98.73 166.57,96.38 166.64,94.15 166.70,92.03 166.77,90.02 166.83,88.13 166.90,86.35 166.96,84.70 167.03,83.16 167.09,81.75 167.16,80.47 167.22,79.31 167.29,78.29 167.35,77.40 167.42,76.64 167.48,76.02 167.55,75.54 167.61,75.19 167.68,74.98 167.74,74.91 167.81,74.98 167.87,75.19 167.94,75.54 168.00,76.02 168.07,76.64 168.13,77.40 168.20,78.29 168.26,79.31 168.33,80.47 168.39,81.75 168.46,83.16 168.52,84.70 168.59,86.35 168.65,88.13 168.72,90.02 168.78,92.03 168.85,94.15 168.91,96.38 168.98,98.73 169.04,101.19 169.11,103.76 169.17,106.46 169.24,109.29 169.30,112.29 169.37,115.52 169.43,119.17 169.50,121.10 169.56,121.10 169.63,121.10 169.69,121.10 169.76,121.10 169.82,121.10 169.89,121.10 169.95,121.10 170.02,121.10 170.08,121.10 170.15,121.10 170.22,121.10 170.28,121.10 170.35,121.10 170.41,121.10 170.48,121.10 170.54,121.10 170.61,121.10 170.67,121.10 170.74,121.10 170.80,121.10 170.87,121.10 170.93,121.10 171.00,121.10 171.06,121.10 171.13,121.10 171.19,121.10 171.26,121.10 171.32,121.10 171.39,121.10 171.45,121.10 171.52,121.10 171.58,121.10 171.65,121.10 171.71,121.10 171.78,121.10 171.84,121.10 171.91,121.10 171.97,121.10 172.04,121.10 172.10,121.10 172.17,121.10 172.23,121.10 172.30,119.07 172.36,115.22 172.43,111.82 172.49,108.66 172.56,105.67 172.62,102.82 172.69,100.11 172.75,97.52 172.82,95.04 172.88,92.69 172.95,90.45 173.01,88.34 173.08,86.34 173.14,84.47 173.21,82.73 173.27,81.11 173.34,79.62 173.40,78.27 173.47,77.05 173.53,75.97 173.60,75.03 173.66,74.24 173.73,73.58 173.79,73.07 173.86,72.71 173.92,72.49 173.99,72.41 174.05,72.49 174.12,72.71 174.18,73.07 174.25,73.58 174.31,74.24 174.38,75.03 174.44,75.97 174.51,77.05 174.58,78.27 174.64,79.62 174.71,81.11 174.77,82.73 174.84,84.47 174.90,86.34 174.97,88.34 175.03,90.45 175.10,92.69 175.16,95.04 175.23,97.52 175.29,100.11 175.36,102.82 175.42,105.67 175.49,108.66 175.55,111.82 175.62,115.22 175.68,119.07 175.75,121.10 175.81,121.10 175.88,121.10 175.94,121.10 176.01,121.10 176.07,121.10 176.14,121.10 176.20,121.10 176.27,121.10 176.33,121.10 176.40,121.10 176.46,121.10 176.53,121.10 176.59,121.10 176.66,121.10 176.72,121.10 176.79,121.10 176.85,121.10 176.92,121.10 176.98,121.10 177.05,121.10 177.11,121.10 177.18,121.10 177.24,121.10 177.31,121.10 177.37,121.10 177.44,121.10 177.50,121.10 177.57,121.10 177.63,121.10 177.70,121.10 177.76,121.10 177.83,121.10 177.89,121.10 177.96,121.10 178.02,121.10 178.09,121.10 178.15,121.10 178.22,121.10 178.28,121.10 178.35,121.10 178.41,121.10 178.48,121.10 178.54,119.02 178.61,115.06 178.67,111.57 178.74,108.32 178.80,105.25 178.87,102.33 178.94,99.54 179.00,96.88 179.07,94.34 179.13,91.92 179.20,89.63 179.26,87.45 179.33,85.41 179.39,83.48 179.46,81.69 179.52,80.03 179.59,78.50 179.65,77.12 179.72,75.87 179.78,74.76 179.85,73.79 179.91,72.97 179.98,72.30 180.04,71.78 180.11,71.40 180.17,71.18 180.24,71.10 180.30,71.18 180.37,71.40 180.43,71.78 180.50,72.30 180.56,72.97 180.63,73.79 180.69,74.76 180.76,75.87 180.82,77.12 180.89,78.50 180.95,80.03 181.02,81.69 181.08,83.48 181.15,85.41 181.21,87.45 181.28,89.63 181.34,91.92 181.41,94.34 181.47,96.88 181.54,99.54 181.60,102.33 181.67,105.25 181.73,108.32 181.80,111.57 181.86,115.06 181.93,119.02 181.99,121.10 182.06,121.10 182.12,121.10 182.19,121.10 182.25,121.10 182.32,121.10 182.38,121.10 182.45,121.10 182.51,121.10 182.58,121.10 182.64,121.10 182.71,121.10 182.77,121.10 182.84,121.10 182.90,121.10 182.97,121.10 183.03,121.10 183.10,121.10 183.16,121.10 183.23,121.10 183.30,121.10 183.36,121.10 183.43,121.10 183.49,121.10 183.56,121.10 183.62,121.10 183.69,121.10 183.75,121.10 183.82,121.10 183.88,121.10 183.95,121.10 184.01,121.10 184.08,121.10 184.14,121.10 184.21,121.10 184.27,121.10 184.34,121.10 184.40,121.10 184.47,121.10 184.53,121.10 184.60,121.10 184.66,121.10 184.73,121.10 184.79,118.99 184.86,115.00 184.92,111.47 184.99,108.19 185.05,105.09 185.12,102.14 185.18,99.33 185.25,96.64 185.31,94.07 185.38,91.63 185.44,89.31 185.51,87.12 185.57,85.05 185.64,83.11 185.70,81.30 185.77,79.62 185.83,78.08 185.90,76.68 185.96,75.41 186.03,74.29 186.09,73.32 186.16,72.49 186.22,71.81 186.29,71.28 186.35,70.90 186.42,70.68 186.48,70.60 186.55,70.68 186.61,70.90 186.68,71.28 186.74,71.81 186.81,72.49 186.87,73.32 186.94,74.29 187.00,75.41 187.07,76.68 187.13,78.08 187.20,79.62 187.26,81.30 187.33,83.11 187.39,85.05 187.46,87.12 187.53,89.31 187.59,91.63 187.66,94.07 187.72,96.64 187.79,99.33 187.85,102.14 187.92,105.09 187.98,108.19 188.05,111.47 188.11,115.00 188.18,118.99 188.24,121.10 188.31,121.10 188.37,121.10 188.44,121.10 188.50,121.10 188.57,121.10 188.63,121.10 188.70,121.10 188.76,121.10 188.83,121.10 188.89,121.10 188.96,121.10 189.02,121.10 189.09,121.10 189.15,121.10 189.22,121.10 189.28,121.10 189.35,121.10 189.41,121.10 189.48,121.10 189.54,121.10 189.61,121.10 189.67,121.10 189.74,121.10 189.80,121.10 189.87,121.10 189.93,121.10 190.00,121.10 190.06,121.10 190.13,121.10 190.19,121.10 190.26,121.10 190.32,121.10 190.39,121.10 190.45,121.10 190.52,121.10 190.58,121.10 190.65,121.10 190.71,121.10 190.78,121.10 190.84,121.10 190.91,121.10 190.97,121.10 191.04,119.02 191.10,115.06 191.17,111.57 191.23,108.32 191.30,105.25 191.36,102.33 191.43,99.54 191.49,96.88 191.56,94.34 191.62,91.92 191.69,89.63 191.75,87.45 191.82,85.41 191.89,83.48 191.95,81.69 192.02,80.03 192.08,78.50 192.15,77.12 192.21,75.87 192.28,74.76 192.34,73.79 192.41,72.97 192.47,72.30 192.54,71.78 192.60,71.40 192.67,71.18 192.73,71.10 192.80,71.18 192.86,71.40 192.93,71.78 192.99,72.30 193.06,72.97 193.12,73.79 193.19,74.76 193.25,75.87 193.32,77.12 193.38,78.50 193.45,80.03 193.51,81.69 193.58,83.48 193.64,85.41 193.71,87.45 193.77,89.63 193.84,91.92 193.90,94.34 193.97,96.88 194.03,99.54 194.10,102.33 194.16,105.25 194.23,108.32 194.29,111.57 194.36,115.06 194.42,119.02 194.49,121.10 194.55,121.10 194.62,121.10 194.68,121.10 194.75,121.10 194.81,121.10 194.88,121.10 194.94,121.10 195.01,121.10 195.07,121.10 195.14,121.10 195.20,121.10 195.27,121.10 195.33,121.10 195.40,121.10 195.46,121.10 195.53,121.10 195.59,121.10 195.66,121.10 195.72,121.10 195.79,121.10 195.85,121.10 195.92,121.10 195.98,121.10 196.05,121.10 196.11,121.10 196.18,121.10 196.25,121.10 196.31,121.10 196.38,121.10 196.44,121.10 196.51,121.10 196.57,121.10 196.64,121.10 196.70,121.10 196.77,121.10 196.83,121.10 196.90,121.10 196.96,121.10 197.03,121.10 197.09,121.10 197.16,121.10 197.22,121.10 197.29,118.99 197.35,114.98 197.42,111.44 197.48,108.14 197.55,105.03 197.61,102.07 197.68,99.25 197.74,96.55 197.81,93.97 197.87,91.52 197.94,89.20 198.00,86.99 198.07,84.92 198.13,82.97 198.20,81.15 198.26,79.47 198.33,77.92 198.39,76.51 198.46,75.24 198.52,74.12 198.59,73.14 198.65,72.31 198.72,71.63 198.78,71.10 198.85,70.72 198.91,70.49 198.98,70.41 199.04,70.49 199.11,70.72 199.17,71.10 199.24,71.63 199.30,72.31 199.37,73.14 199.43,74.12 199.50,75.24 199.56,76.51 199.63,77.92 199.69,79.47 199.76,81.15 199.82,82.97 199.89,84.92 199.95,86.99 200.02,89.20 200.08,91.52 200.15,93.97 200.21,96.55 200.28,99.25 200.34,102.07 200.41,105.03 200.47,108.14 200.54,111.44 200.61,114.98 200.67,118.99 200.74,121.10 200.80,121.10 200.87,121.10 200.93,121.10 201.00,121.10 201.06,121.10 201.13,121.10 201.19,121.10 201.26,121.10 201.32,121.10 201.39,121.10 201.45,121.10 201.52,121.10 201.58,121.10 201.65,121.10 201.71,121.10 201.78,121.10 201.84,121.10 201.91,121.10 201.97,121.10 202.04,121.10 202.10,121.10 202.17,121.10 202.23,121.10 202.30,121.10 202.36,121.10 202.43,121.10 202.49,121.10 202.56,121.10 202.62,121.10 202.69,121.10 202.75,121.10 202.82,121.10 202.88,121.10 202.95,121.10 203.01,121.10 203.08,121.10 203.14,121.10 203.21,121.10 203.27,121.10 203.34,121.10 203.40,121.10 203.47,121.10 203.53,119.08 203.60,115.24 203.66,111.85 203.73,108.70 203.79,105.73 203.86,102.89 203.92,100.19 203.99,97.61 204.05,95.15 204.12,92.80 204.18,90.57 204.25,88.46 204.31,86.48 204.38,84.61 204.44,82.87 204.51,81.26 204.57,79.78 204.64,78.44 204.70,77.22 204.77,76.15 204.83,75.21 204.90,74.42 204.97,73.76 205.03,73.26 205.10,72.89 205.16,72.67 205.23,72.60 205.29,72.67 205.36,72.89 205.42,73.26 205.49,73.76 205.55,74.42 205.62,75.21 205.68,76.15 205.75,77.22 205.81,78.44 205.88,79.78 205.94,81.26 206.01,82.87 206.07,84.61 206.14,86.48 206.20,88.46 206.27,90.57 206.33,92.80 206.40,95.15 206.46,97.61 206.53,100.19 206.59,102.89 206.66,105.73 206.72,108.70 206.79,111.85 206.85,115.24 206.92,119.08 206.98,121.10 207.05,121.10 207.11,121.10 207.18,121.10 207.24,121.10 207.31,121.10 207.37,121.10 207.44,121.10 207.50,121.10 207.57,121.10 207.63,121.10 207.70,121.10 207.76,121.10 207.83,121.10 207.89,121.10 207.96,121.10 208.02,121.10 208.09,121.10 208.15,121.10 208.22,121.10 208.28,121.10 208.35,121.10 208.41,121.10 208.48,121.10 208.54,121.10 208.61,121.10 208.67,121.10 208.74,121.10 208.80,121.10 208.87,121.10 208.93,121.10 209.00,121.10 209.06,121.10 209.13,121.10 209.19,121.10 209.26,121.10 209.33,121.10 209.39,121.10 209.46,121.10 209.52,121.10 209.59,121.10 209.65,121.10 209.72,121.10 209.78,119.22 209.85,115.65 209.91,112.50 209.98,109.57 210.04,106.80 210.11,104.16 210.17,101.64 210.24,99.24 210.30,96.95 210.37,94.77 210.43,92.70 210.50,90.74 210.56,88.89 210.63,87.15 210.69,85.53 210.76,84.04 210.82,82.66 210.89,81.40 210.95,80.28 211.02,79.28 211.08,78.41 211.15,77.67 211.21,77.06 211.28,76.59 211.34,76.25 211.41,76.04 211.47,75.97 211.54,76.04 211.60,76.25 211.67,76.59 211.73,77.06 211.80,77.67 211.86,78.41 211.93,79.28 211.99,80.28 212.06,81.40 212.12,82.66 212.19,84.04 212.25,85.53 212.32,87.15 212.38,88.89 212.45,90.74 212.51,92.70 212.58,94.77 212.64,96.95 212.71,99.24 212.77,101.64 212.84,104.16 212.90,106.80 212.97,109.57 213.03,112.50 213.10,115.65 213.16,119.22 213.23,121.10 213.29,121.10 213.36,121.10 213.42,121.10 213.49,121.10 213.56,121.10 213.62,121.10 213.69,121.10 213.75,121.10 213.82,121.10 213.88,121.10 213.95,121.10 214.01,121.10 214.08,121.10 214.14,121.10 214.21,121.10 214.27,121.10 214.34,121.10 214.40,121.10 214.47,121.10 214.53,121.10 214.60,121.10 214.66,121.10 214.73,121.10 214.79,121.10 214.86,121.10 214.92,121.10 214.99,121.10 215.05,121.10 215.12,121.10 215.18,121.10 215.25,121.10 215.31,121.10 215.38,121.10 215.44,121.10 215.51,121.10 215.57,121.10 215.64,121.10 215.70,121.10 215.77,121.10 215.83,121.10 215.90,121.10 215.96,121.10 216.03,119.08 216.09,115.24 216.16,111.85 216.22,108.70 216.29,105.73 216.35,102.89 216.42,100.19 216.48,97.61 216.55,95.15 216.61,92.80 216.68,90.57 216.74,88.46 216.81,86.48 216.87,84.61 216.94,82.87 217.00,81.26 217.07,79.78 217.13,78.44 217.20,77.22 217.26,76.15 217.33,75.21 217.39,74.42 217.46,73.76 217.52,73.26 217.59,72.89 217.65,72.67 217.72,72.60 217.78,72.67 217.85,72.89 217.92,73.26 217.98,73.76 218.05,74.42 218.11,75.21 218.18,76.15 218.24,77.22 218.31,78.44 218.37,79.78 218.44,81.26 218.50,82.87 218.57,84.61 218.63,86.48 218.70,88.46 218.76,90.57 218.83,92.80 218.89,95.15 218.96,97.61 219.02,100.19 219.09,102.89 219.15,105.73 219.22,108.70 219.28,111.85 219.35,115.24 219.41,119.08 219.48,121.10 219.54,121.10 219.61,121.10 219.67,121.10 219.74,121.10 219.80,121.10 219.87,121.10 219.93,121.10 220.00,121.10 220.06,121.10 220.13,121.10 220.19,121.10 220.26,121.10 220.32,121.10 220.39,121.10 220.45,121.10 220.52,121.10 220.58,121.10 220.65,121.10 220.71,121.10 220.78,121.10 220.84,121.10 220.91,121.10 220.97,121.10 221.04,121.10 221.10,121.10 221.17,121.10 221.23,121.10 221.30,121.10 221.36,121.10 221.43,121.10 221.49,121.10 221.56,121.10 221.62,121.10 221.69,121.10 221.75,121.10 221.82,121.10 221.88,121.10 221.95,121.10 222.01,121.10 222.08,121.10 222.14,121.10 222.21,121.10 222.28,118.99 222.34,114.98 222.41,111.44 222.47,108.14 222.54,105.03 222.60,102.07 222.67,99.25 222.73,96.55 222.80,93.97 222.86,91.52 222.93,89.20 222.99,86.99 223.06,84.92 223.12,82.97 223.19,81.15 223.25,79.47 223.32,77.92 223.38,76.51 223.45,75.24 223.51,74.12 223.58,73.14 223.64,72.31 223.71,71.63 223.77,71.10 223.84,70.72 223.90,70.49 223.97,70.41 224.03,70.49 224.10,70.72 224.16,71.10 224.23,71.63 224.29,72.31 224.36,73.14 224.42,74.12 224.49,75.24 224.55,76.51 224.62,77.92 224.68,79.47 224.75,81.15 224.81,82.97 224.88,84.92 224.94,86.99 225.01,89.20 225.07,91.52 225.14,93.97 225.20,96.55 225.27,99.25 225.33,102.07 225.40,105.03 225.46,108.14 225.53,111.44 225.59,114.98 225.66,118.99 225.72,121.10 225.79,121.10 225.85,121.10 225.92,121.10 225.98,121.10 226.05,121.10 226.11,121.10 226.18,121.10 226.24,121.10 226.31,121.10 226.37,121.10 226.44,121.10 226.50,121.10 226.57,121.10 226.64,121.10 226.70,121.10 226.77,121.10 226.83,121.10 226.90,121.10 226.96,121.10 227.03,121.10 227.09,121.10 227.16,121.10 227.22,121.10 227.29,121.10 227.35,121.10 227.42,121.10 227.48,121.10 227.55,121.10 227.61,121.10 227.68,121.10 227.74,121.10 227.81,121.10 227.87,121.10 227.94,121.10 228.00,121.10 228.07,121.10 228.13,121.10 228.20,121.10 228.26,121.10 228.33,121.10 228.39,121.10 228.46,121.10 228.52,119.08 228.59,115.24 228.65,111.85 228.72,108.70 228.78,105.73 228.85,102.89 228.91,100.19 228.98,97.61 229.04,95.15 229.11,92.80 229.17,90.57 229.24,88.46 229.30,86.48 229.37,84.61 229.43,82.87 229.50,81.26 229.56,79.78 229.63,78.44 229.69,77.22 229.76,76.15 229.82,75.21 229.89,74.42 229.95,73.76 230.02,73.26 230.08,72.89 230.15,72.67 230.21,72.60 230.28,72.67 230.34,72.89 230.41,73.26 230.47,73.76 230.54,74.42 230.60,75.21 230.67,76.15 230.73,77.22 230.80,78.44 230.86,79.78 230.93,81.26 231.00,82.87 231.06,84.61 231.13,86.48 231.19,88.46 231.26,90.57 231.32,92.80 231.39,95.15 231.45,97.61 231.52,100.19 231.58,102.89 231.65,105.73 231.71,108.70 231.78,111.85 231.84,115.24 231.91,119.08 231.97,121.10 232.04,121.10 232.10,121.10 232.17,121.10 232.23,121.10 232.30,121.10 232.36,121.10 232.43,121.10 232.49,121.10 232.56,121.10 232.62,121.10 232.69,121.10 232.75,121.10 232.82,121.10 232.88,121.10 232.95,121.10 233.01,121.10 233.08,121.10 233.14,121.10 233.21,121.10 233.27,121.10 233.34,121.10 233.40,121.10" fill="none" stroke="#ff0000" stroke-width="1.3" stroke-linejoin="round"/>
<text x="34" y="61.1" font-size="7.0" text-anchor="end" fill="#000">1000</text>
<text x="34" y="73.6" font-size="7.0" text-anchor="end" fill="#000">800</text>
<text x="34" y="86.1" font-size="7.0" text-anchor="end" fill="#000">600</text>
<text x="34" y="98.6" font-size="7.0" text-anchor="end" fill="#000">400</text>
<text x="34" y="111.1" font-size="7.0" text-anchor="end" fill="#000">200</text>
<text x="34" y="123.6" font-size="7.0" text-anchor="end" fill="#000">0</text>
<text x="34" y="136.1" font-size="7.0" text-anchor="end" fill="#000">-200</text>
<text x="40.0" y="131.7" font-size="7.0" text-anchor="middle" fill="#000">0</text>
<text x="66.03" y="131.7" font-size="7.0" text-anchor="middle" fill="#000">100</text>
<text x="92.06" y="131.7" font-size="7.0" text-anchor="middle" fill="#000">200</text>
<text x="118.09" y="131.7" font-size="7.0" text-anchor="middle" fill="#000">300</text>
<text x="144.12" y="131.7" font-size="7.0" text-anchor="middle" fill="#000">400</text>
<text x="170.15" y="131.7" font-size="7.0" text-anchor="middle" fill="#000">500</text>
<text x="196.18" y="131.7" font-size="7.0" text-anchor="middle" fill="#000">600</text>
<text x="222.21" y="131.7" font-size="7.0" text-anchor="middle" fill="#000">700</text>
<text x="248.24" y="131.7" font-size="7.0" text-anchor="middle" fill="#000">800</text>
<text x="93.5" y="48.4" font-size="8.4" fill="#000" textLength="75" lengthAdjust="spacingAndGlyphs" stroke="#000" stroke-width="0.25">Solar Irradiance plot</text>
<text x="128.5" y="141" font-size="6.8" fill="#000" textLength="32" lengthAdjust="spacingAndGlyphs">Time (hrs)</text>
<text transform="translate(15.5,126.1) rotate(-90)" font-size="6.6" textLength="60.5" lengthAdjust="spacingAndGlyphs">Irradiance(kW/m2)</text>
<text x="143.5" y="159.2" font-size="10" text-anchor="middle" fill="#000">(a)</text>
<line x1="309.6" y1="58.2" x2="309.6" y2="121" stroke="#bfbfbf" stroke-width="0.8"/>
<line x1="309.6" y1="121" x2="535" y2="121" stroke="#bfbfbf" stroke-width="0.8"/>
<polyline points="309.80,93.74 310.00,94.33 310.20,95.14 310.40,95.94 310.60,96.47 310.80,96.30 311.00,95.37 311.20,93.93 311.40,92.00 311.60,89.69 311.80,87.23 312.00,84.76 312.20,82.26 312.40,79.74 312.60,77.20 312.80,74.71 313.00,72.47 313.20,70.87 313.40,70.26 313.60,70.98 313.80,72.89 314.00,75.27 314.20,77.73 314.40,80.18 314.60,82.55 314.80,84.60 315.00,86.20 315.20,87.51 315.40,88.71 315.60,89.74 315.80,90.46 316.00,90.93 316.20,91.32 316.40,91.71 316.60,92.14 316.80,92.61 317.00,93.12 317.20,93.68 317.40,94.28 317.60,94.78 317.80,94.78 318.00,93.95 318.20,92.38 318.40,90.16 318.60,87.45 318.80,84.55 319.00,81.61 319.20,78.64 319.40,75.65 319.60,72.74 319.80,70.22 320.00,68.62 320.20,68.40 320.40,69.67 320.60,71.81 320.80,74.17 321.00,76.55 321.20,78.88 321.40,80.95 321.60,82.58 321.80,83.89 322.00,85.06 322.20,86.06 322.40,86.76 322.60,87.21 322.80,87.59 323.00,87.97 323.20,88.40 323.40,88.87 323.60,89.37 323.80,89.93 324.00,90.50 324.20,90.85 324.40,90.62 324.60,89.75 324.80,88.44 325.00,86.69 325.20,84.59 325.40,82.36 325.60,80.11 325.80,77.85 326.00,75.56 326.20,73.25 326.40,70.99 326.60,68.96 326.80,67.52 327.00,67.03 327.20,67.90 327.40,69.99 327.60,72.56 327.80,75.22 328.00,77.86 328.20,80.34 328.40,82.41 328.60,84.02 328.80,85.39 329.00,86.62 329.20,87.57 329.40,88.19 329.60,88.64 329.80,89.05 330.00,89.50 330.20,90.00 330.40,90.54 330.60,91.13 330.80,91.78 331.00,92.33 331.20,92.40 331.40,91.65 331.60,90.19 331.80,88.12 332.00,85.59 332.20,82.88 332.40,80.14 332.60,77.37 332.80,74.58 333.00,71.85 333.20,69.51 333.40,68.04 333.60,67.95 333.80,69.39 334.00,71.74 334.20,74.32 334.40,76.91 334.60,79.44 334.80,81.70 335.00,83.48 335.20,84.91 335.40,86.18 335.60,87.27 335.80,88.03 336.00,88.53 336.20,88.94 336.40,89.36 336.60,89.82 336.80,90.33 337.00,90.88 337.20,91.49 337.40,92.11 337.60,92.49 337.80,92.21 338.00,91.20 338.20,89.61 338.40,87.49 338.60,85.05 338.80,82.53 339.00,79.99 339.20,77.43 339.40,74.84 339.60,72.34 339.80,70.21 340.00,68.88 340.20,68.74 340.40,69.91 340.60,71.85 340.80,74.00 341.00,76.16 341.20,78.31 341.40,80.38 341.60,82.17 341.80,83.56 342.00,84.71 342.20,85.78 342.40,86.73 342.60,87.44 342.80,87.89 343.00,88.23 343.20,88.56 343.40,88.92 343.60,89.31 343.80,89.74 344.00,90.20 344.20,90.70 344.40,91.24 344.60,91.68 344.80,91.69 345.00,90.98 345.20,89.63 345.40,87.72 345.60,85.39 345.80,82.90 346.00,80.37 346.20,77.81 346.40,75.24 346.60,72.73 346.80,70.57 347.00,69.21 347.20,69.10 347.40,70.37 347.60,72.44 347.80,74.73 348.00,77.03 348.20,79.32 348.40,81.46 348.60,83.24 348.80,84.61 349.00,85.80 349.20,86.90 349.40,87.80 349.60,88.40 349.80,88.81 350.00,89.16 350.20,89.53 350.40,89.94 350.60,90.39 350.80,90.87 351.00,91.39 351.20,91.96 351.40,92.43 351.60,92.44 351.80,91.68 352.00,90.25 352.20,88.23 352.40,85.73 352.60,83.03 352.80,80.29 353.00,77.53 353.20,74.74 353.40,71.96 353.60,69.40 353.80,67.48 354.00,66.70 354.20,67.48 354.40,69.57 354.60,72.19 354.80,74.89 355.00,77.58 355.20,80.10 355.40,82.22 355.60,83.85 355.80,85.25 356.00,86.50 356.20,87.47 356.40,88.10 356.60,88.55 356.80,88.98 357.00,89.43 357.20,89.94 357.40,90.49 357.60,91.09 357.80,91.75 358.00,92.32 358.20,92.39 358.40,91.64 358.60,90.16 358.80,88.06 359.00,85.50 359.20,82.77 359.40,79.99 359.60,77.19 359.80,74.37 360.00,71.61 360.20,69.25 360.40,67.76 360.60,67.65 360.80,69.08 361.00,71.41 361.20,73.97 361.40,76.56 361.60,79.14 361.80,81.62 362.00,83.76 362.20,85.42 362.40,86.79 362.60,88.07 362.80,89.22 363.00,90.06 363.20,90.60 363.40,91.01 363.60,91.41 363.80,91.83 364.00,92.31 364.20,92.82 364.40,93.36 364.60,93.96 364.80,94.61 365.00,95.13 365.20,95.08 365.40,94.09 365.60,92.23 365.80,89.61 366.00,86.47 366.20,83.13 366.40,79.74 366.60,76.32 366.80,72.90 367.00,69.68 367.20,67.17 367.40,65.94 367.60,66.33 367.80,68.01 368.00,70.20 368.20,72.47 368.40,74.75 368.60,76.99 368.80,79.05 369.00,80.71 369.20,82.02 369.40,83.17 369.60,84.26 369.80,85.15 370.00,85.74 370.20,86.14 370.40,86.49 370.60,86.85 370.80,87.24 371.00,87.68 371.20,88.14 371.40,88.64 371.60,89.19 371.80,89.74 372.00,90.05 372.20,89.73 372.40,88.71 372.60,87.10 372.80,84.98 373.00,82.58 373.20,80.11 373.40,77.61 373.60,75.09 373.80,72.57 374.00,70.22 374.20,68.43 374.40,67.62 374.60,68.12 374.80,69.70 375.00,71.71 375.20,73.78 375.40,75.86 375.60,77.89 375.80,79.72 376.00,81.18 376.20,82.34 376.40,83.39 376.60,84.34 376.80,85.09 377.00,85.57 377.20,85.92 377.40,86.24 377.60,86.58 377.80,86.95 378.00,87.36 378.20,87.79 378.40,88.27 378.60,88.78 378.80,89.20 379.00,89.15 379.20,88.32 379.40,86.72 379.60,84.49 379.80,81.87 380.00,79.14 380.20,76.37 380.40,73.59 380.60,70.92 380.80,68.79 381.00,67.73 381.20,68.13 381.40,69.66 381.60,71.64 381.80,73.69 382.00,75.74 382.20,77.73 382.40,79.49 382.60,80.88 382.80,82.00 383.00,83.02 383.20,83.93 383.40,84.60 383.60,85.02 383.80,85.35 384.00,85.67 384.20,86.01 384.40,86.40 384.60,86.81 384.80,87.25 385.00,87.74 385.20,88.23 385.40,88.47 385.60,88.06 385.80,86.86 386.00,84.96 386.20,82.55 386.40,79.91 386.60,77.22 386.80,74.49 387.00,71.80 387.20,69.39 387.40,67.78 387.60,67.52 387.80,68.71 388.00,70.72 388.20,72.95 388.40,75.19 388.60,77.36 388.80,79.26 389.00,80.74 389.20,81.94 389.40,83.01 389.60,83.89 389.80,84.48 390.00,84.87 390.20,85.22 390.40,85.59 390.60,86.01 390.80,86.46 391.00,86.96 391.20,87.50 391.40,87.98 391.60,88.09 391.80,87.61 392.00,86.66 392.20,85.34 392.40,83.64 392.60,81.74 392.80,79.80 393.00,77.84 393.20,75.87 393.40,73.88 393.60,71.88 393.80,69.99 394.00,68.45 394.20,67.58 394.40,67.76 394.60,69.21 394.80,71.45 395.00,73.89 395.20,76.33 395.40,78.64 395.60,80.58 395.80,82.08 396.00,83.34 396.20,84.44 396.40,85.24 396.60,85.75 396.80,86.15 397.00,86.55 397.20,86.99 397.40,87.47 397.60,88.01 397.80,88.59 398.00,89.12 398.20,89.29 398.40,88.86 398.60,88.03 398.80,86.91 399.00,85.46 399.20,83.72 399.40,81.87 399.60,80.01 399.80,78.15 400.00,76.27 400.20,74.37 400.40,72.46 400.60,70.54 400.80,68.71 401.00,67.16 401.20,66.15 401.40,65.92 401.60,66.94 401.80,69.14 402.00,71.82 402.20,74.56 402.40,77.16 402.60,79.36 402.80,81.07 403.00,82.47 403.20,83.63 403.40,84.44 403.60,84.97 403.80,85.42 404.00,85.89 404.20,86.42 404.40,87.00 404.60,87.64 404.80,88.24 405.00,88.47 405.20,88.09 405.40,87.28 405.60,86.21 405.80,84.80 406.00,83.12 406.20,81.33 406.40,79.53 406.60,77.72 406.80,75.91 407.00,74.07 407.20,72.21 407.40,70.36 407.60,68.59 407.80,67.09 408.00,66.10 408.20,65.82 408.40,66.61 408.60,68.41 408.80,70.62 409.00,72.89 409.20,75.11 409.40,77.11 409.60,78.69 409.80,79.95 410.00,81.05 410.20,81.95 410.40,82.54 410.60,82.94 410.80,83.30 411.00,83.69 411.20,84.12 411.40,84.59 411.60,85.11 411.80,85.65 412.00,86.01 412.20,85.85 412.40,85.15 412.60,84.07 412.80,82.62 413.00,80.88 413.20,79.03 413.40,77.17 413.60,75.29 413.80,73.40 414.00,71.49 414.20,69.61 414.40,67.94 414.60,66.74 414.80,66.35 415.00,67.12 415.20,68.92 415.40,71.13 415.60,73.41 415.80,75.63 416.00,77.58 416.20,79.11 416.40,80.33 416.60,81.39 416.80,82.21 417.00,82.75 417.20,83.13 417.40,83.50 417.60,83.91 417.80,84.35 418.00,84.85 418.20,85.39 418.40,85.89 418.60,86.07 418.80,85.75 419.00,85.07 419.20,84.16 419.40,82.98 419.60,81.56 419.80,80.05 420.00,78.53 420.20,77.01 420.40,75.48 420.60,73.93 420.80,72.37 421.00,70.81 421.20,69.31 421.40,68.05 421.60,67.22 421.80,67.03 422.00,67.86 422.20,69.64 422.40,71.81 422.60,74.04 422.80,76.22 423.00,78.18 423.20,79.74 423.40,80.98 423.60,82.06 423.80,82.93 424.00,83.51 424.20,83.91 424.40,84.26 424.60,84.64 424.80,85.07 425.00,85.53 425.20,86.04 425.40,86.57 425.60,86.92 425.80,86.76 426.00,86.09 426.20,85.08 426.40,83.75 426.60,82.08 426.80,80.27 427.00,78.42 427.20,76.57 427.40,74.71 427.60,72.82 427.80,70.93 428.00,69.04 428.20,67.30 428.40,65.94 428.60,65.22 428.80,65.55 429.00,67.21 429.20,69.71 429.40,72.42 429.60,75.07 429.80,77.43 430.00,79.27 430.20,80.74 430.40,81.97 430.60,82.86 430.80,83.43 431.00,83.88 431.20,84.34 431.40,84.86 431.60,85.43 431.80,86.06 432.00,86.65 432.20,86.90 432.40,86.57 432.60,85.84 432.80,84.86 433.00,83.57 433.20,82.03 433.40,80.40 433.60,78.76 433.80,77.11 434.00,75.45 434.20,73.77 434.40,72.08 434.60,70.39 434.80,68.77 435.00,67.40 435.20,66.51 435.40,66.31 435.60,67.21 435.80,69.17 436.00,71.54 436.20,73.98 436.40,76.33 436.60,78.35 436.80,79.93 437.00,81.21 437.20,82.30 437.40,83.10 437.60,83.61 437.80,84.01 438.00,84.41 438.20,84.86 438.40,85.36 438.60,85.91 438.80,86.49 439.00,86.89 439.20,86.80 439.40,86.19 439.60,85.30 439.80,84.13 440.00,82.63 440.20,80.97 440.40,79.26 440.60,77.55 440.80,75.83 441.00,74.09 441.20,72.33 441.40,70.57 441.60,68.83 441.80,67.24 442.00,66.05 442.20,65.44 442.40,65.79 442.60,67.40 442.80,69.81 443.00,72.43 443.20,75.03 443.40,77.42 443.60,79.35 443.80,80.86 444.00,82.14 444.20,83.18 444.40,83.86 444.60,84.33 444.80,84.75 445.00,85.21 445.20,85.72 445.40,86.28 445.60,86.90 445.80,87.46 446.00,87.62 446.20,87.11 446.40,86.10 446.60,84.69 446.80,82.87 447.00,80.82 447.20,78.69 447.40,76.56 447.60,74.42 447.80,72.24 448.00,70.06 448.20,67.92 448.40,66.04 448.60,64.71 448.80,64.28 449.00,65.15 449.20,67.20 449.40,69.72 449.60,72.32 449.80,74.89 450.00,77.32 450.20,79.35 450.40,80.92 450.60,82.26 450.80,83.46 451.00,84.39 451.20,85.00 451.40,85.44 451.60,85.84 451.80,86.28 452.00,86.77 452.20,87.30 452.40,87.88 452.60,88.51 452.80,89.06 453.00,89.15 453.20,88.50 453.40,87.20 453.60,85.36 453.80,83.07 454.00,80.61 454.20,78.11 454.40,75.58 454.60,73.03 454.80,70.50 455.00,68.16 455.20,66.41 455.40,65.72 455.60,66.49 455.80,68.53 456.00,71.06 456.20,73.67 456.40,76.26 456.60,78.66 456.80,80.63 457.00,82.15 457.20,83.47 457.40,84.63 457.60,85.48 457.80,86.03 458.00,86.44 458.20,86.86 458.40,87.32 458.60,87.83 458.80,88.38 459.00,88.98 459.20,89.61 459.40,90.00 459.60,89.76 459.80,88.86 460.00,87.48 460.20,85.62 460.40,83.41 460.60,81.06 460.80,78.69 461.00,76.30 461.20,73.89 461.40,71.46 461.60,69.07 461.80,66.93 462.00,65.39 462.20,64.76 462.40,65.34 462.60,66.96 462.80,69.00 463.00,71.11 463.20,73.23 463.40,75.28 463.60,77.10 463.80,78.53 464.00,79.68 464.20,80.73 464.40,81.67 464.60,82.36 464.80,82.80 465.00,83.13 465.20,83.46 465.40,83.82 465.60,84.21 465.80,84.64 466.00,85.10 466.20,85.60 466.40,86.11 466.60,86.40 466.80,86.14 467.00,85.26 467.20,83.93 467.40,82.16 467.60,80.06 467.80,77.85 468.00,75.63 468.20,73.38 468.40,71.11 468.60,68.84 468.80,66.66 469.00,64.86 469.20,63.81 469.40,63.87 469.60,65.23 469.80,67.38 470.00,69.74 470.20,72.10 470.40,74.36 470.60,76.31 470.80,77.81 471.00,79.06 471.20,80.16 471.40,81.01 471.60,81.56 471.80,81.96 472.00,82.34 472.20,82.75 472.40,83.20 472.60,83.70 472.80,84.25 473.00,84.81 473.20,85.18 473.40,85.00 473.60,84.25 473.80,83.11 474.00,81.58 474.20,79.72 474.40,77.73 474.60,75.73 474.80,73.71 475.00,71.67 475.20,69.61 475.40,67.56 475.60,65.62 475.80,64.07 476.00,63.18 476.20,63.27 476.40,64.55 476.60,66.56 476.80,68.76 477.00,70.96 477.20,73.04 477.40,74.79 477.60,76.15 477.80,77.29 478.00,78.28 478.20,79.00 478.40,79.46 478.60,79.82 478.80,80.18 479.00,80.57 479.20,81.01 479.40,81.49 479.60,82.02 479.80,82.50 480.00,82.64 480.20,82.23 480.40,81.40 480.60,80.25 480.80,78.77 481.00,77.09 481.20,75.35 481.40,73.61 481.60,71.86 481.80,70.09 482.00,68.30 482.20,66.56 482.40,65.02 482.60,63.93 482.80,63.52 483.00,64.06 483.20,65.45 483.40,67.18 483.60,68.96 483.80,70.73 484.00,72.37 484.20,73.72 484.40,74.76 484.60,75.66 484.80,76.45 485.00,77.03 485.20,77.41 485.40,77.69 485.60,77.98 485.80,78.29 486.00,78.64 486.20,79.01 486.40,79.43 486.60,79.86 486.80,80.14 487.00,80.02 487.20,79.48 487.40,78.66 487.60,77.55 487.80,76.21 488.00,74.78 488.20,73.33 488.40,71.87 488.60,70.40 488.80,68.92 489.00,67.44 489.20,66.04 489.40,64.92 489.60,64.32 489.80,64.55 490.00,65.82 490.20,67.75 490.40,69.84 490.60,71.95 490.80,74.02 491.00,75.90 491.20,77.41 491.40,78.60 491.60,79.65 491.80,80.59 492.00,81.28 492.20,81.72 492.40,82.05 492.60,82.39 492.80,82.75 493.00,83.15 493.20,83.58 493.40,84.05 493.60,84.57 493.80,85.05 494.00,85.26 494.20,85.03 494.40,84.46 494.60,83.62 494.80,82.57 495.00,81.43 495.20,80.27 495.40,79.10 495.60,77.91 495.80,76.72 496.00,75.58 496.20,74.62 496.40,74.07 496.60,74.22 496.80,75.19 497.00,76.67 497.20,78.28 497.40,79.91 497.60,81.51 497.80,83.00 498.00,84.20 498.20,85.14 498.40,85.96 498.60,86.71 498.80,87.30 499.00,87.68 499.20,87.95 499.40,88.20 499.60,88.47 499.80,88.77 500.00,89.09 500.20,89.44 500.40,89.83 500.60,90.21 500.80,90.37 501.00,89.99 501.20,88.97 501.40,87.43 501.60,85.39 501.80,83.04 502.00,80.61 502.20,78.16 502.40,75.68 502.60,73.18 502.80,70.77 503.00,68.72 503.20,67.50 503.40,67.66 503.60,69.42 503.80,72.16 504.00,75.14 504.20,78.15 504.40,81.12 504.60,83.87 504.80,86.10 505.00,87.84 505.20,89.36 505.40,90.75 505.60,91.83 505.80,92.53 506.00,93.03 506.20,93.50 506.40,94.00 506.60,94.55 506.80,95.15 507.00,95.80 507.20,96.51 507.40,97.23 507.60,97.64 507.80,97.23 508.00,95.91 508.20,93.85 508.40,91.10 508.60,87.95 508.80,84.68 509.00,81.39 509.20,78.06 509.40,74.71 509.60,71.47 509.80,68.70 510.00,66.94 510.20,66.58 510.40,67.70 510.60,69.67 510.80,71.87 511.00,74.09 511.20,76.28 511.40,78.31 511.60,79.95 511.80,81.23 512.00,82.36 512.20,83.38 512.40,84.18 512.60,84.70 512.80,85.07 513.00,85.41 513.20,85.78 513.40,86.19 513.60,86.63 513.80,87.11 514.00,87.64 514.20,88.17 514.40,88.49 514.60,88.26 514.80,87.42 515.00,86.12 515.20,84.38 515.40,82.35 515.60,80.23 515.80,78.10 516.00,75.94 516.20,73.76 516.40,71.61 516.60,69.64 516.80,68.21 517.00,67.78 517.20,68.87 517.40,71.28 517.60,74.17 517.80,76.85 518.00,78.98 518.20,80.56 518.40,81.68 518.60,82.40 518.80,82.95 519.00,83.52 519.20,84.15 519.40,84.75" fill="none" stroke="#1f2a70" stroke-width="1.7" stroke-linejoin="round"/>
<text x="303.7" y="61.68" font-size="7.0" text-anchor="end" fill="#000">35</text>
<text x="303.7" y="70.53" font-size="7.0" text-anchor="end" fill="#000">30</text>
<text x="303.7" y="79.38" font-size="7.0" text-anchor="end" fill="#000">25</text>
<text x="303.7" y="88.22" font-size="7.0" text-anchor="end" fill="#000">20</text>
<text x="303.7" y="97.06" font-size="7.0" text-anchor="end" fill="#000">15</text>
<text x="303.7" y="105.91" font-size="7.0" text-anchor="end" fill="#000">10</text>
<text x="303.7" y="114.75" font-size="7.0" text-anchor="end" fill="#000">5</text>
<text x="303.7" y="123.6" font-size="7.0" text-anchor="end" fill="#000">0</text>
<text x="309.6" y="131.6" font-size="7.0" text-anchor="middle" fill="#000">0</text>
<text x="337.77" y="131.6" font-size="7.0" text-anchor="middle" fill="#000">100</text>
<text x="365.94" y="131.6" font-size="7.0" text-anchor="middle" fill="#000">200</text>
<text x="394.11" y="131.6" font-size="7.0" text-anchor="middle" fill="#000">300</text>
<text x="422.28" y="131.6" font-size="7.0" text-anchor="middle" fill="#000">400</text>
<text x="450.45" y="131.6" font-size="7.0" text-anchor="middle" fill="#000">500</text>
<text x="478.62" y="131.6" font-size="7.0" text-anchor="middle" fill="#000">600</text>
<text x="506.79" y="131.6" font-size="7.0" text-anchor="middle" fill="#000">700</text>
<text x="534.96" y="131.6" font-size="7.0" text-anchor="middle" fill="#000">800</text>
<text x="371.3" y="48.7" font-size="8.4" fill="#000" textLength="84.6" lengthAdjust="spacingAndGlyphs" stroke="#000" stroke-width="0.25">Solar Temparature Plot</text>
<text x="407.8" y="140.8" font-size="6.8" fill="#000" textLength="30.3" lengthAdjust="spacingAndGlyphs">Time(hrs)</text>
<text transform="translate(293.2,117.7) rotate(-90)" font-size="6.6" textLength="56.8" lengthAdjust="spacingAndGlyphs">Temparature(deg)</text>
<text x="423.3" y="160.2" font-size="10" text-anchor="middle" fill="#000">(b)</text>
<line x1="28.4" y1="194" x2="28.4" y2="252" stroke="#bfbfbf" stroke-width="0.8"/>
<line x1="28.4" y1="252" x2="248.3" y2="252" stroke="#bfbfbf" stroke-width="0.8"/>
<polyline points="28.41,235.85 28.96,237.78 29.72,239.15 30.12,240.98 30.69,239.01 31.13,236.47 31.83,234.15 32.45,236.62 32.81,236.29 33.54,238.42 33.94,237.82 34.75,233.35 35.24,233.29 36.01,237.53 36.44,238.83 36.95,240.98 37.38,237.81 38.10,236.55 38.66,236.71 39.10,234.07 39.61,233.16 40.37,231.59 40.91,235.38 41.51,237.21 42.07,239.27 42.64,241.56 43.19,241.89 43.78,244.39 44.55,242.76 45.06,238.31 45.49,234.15 45.98,232.60 46.54,231.46 47.20,232.44 47.87,232.93 48.47,233.74 48.90,235.00 49.66,233.41 49.84,228.26 50.61,226.46 51.34,228.06 51.94,229.51 52.32,231.59 52.72,231.48 53.57,229.62 54.03,229.88 54.43,230.70 55.35,233.65 55.73,234.15 56.15,232.10 56.71,230.29 57.44,230.73 58.13,229.86 58.60,231.11 59.15,231.59 59.59,233.56 60.14,234.38 60.85,235.00 61.27,233.01 61.88,230.76 62.56,229.88 63.32,229.26 63.62,227.85 64.27,224.76 64.72,225.23 65.55,226.97 65.98,227.32 66.39,231.07 67.00,230.43 67.68,233.29 68.36,232.11 68.74,230.62 69.39,231.59 69.80,233.31 70.43,234.80 71.10,235.85 71.62,237.68 72.42,239.78 72.81,241.83 73.40,244.57 73.82,243.43 74.51,246.10 75.25,243.26 75.55,237.01 76.22,234.15 76.89,237.44 77.24,239.18 77.93,239.27 78.65,238.50 79.03,235.57 79.64,235.85 80.02,241.22 80.67,243.99 81.34,246.95 81.81,243.56 82.52,237.10 83.05,233.29 83.49,236.65 84.02,237.44 84.76,240.98 85.35,239.12 85.94,233.93 86.46,231.59 87.20,232.23 87.41,234.17 88.17,236.71 88.72,235.98 89.18,237.94 89.88,239.27 90.48,237.09 90.96,238.97 91.59,236.71 92.38,233.39 92.86,229.24 93.38,225.05 93.86,226.50 94.44,232.78 95.26,234.44 95.78,233.29 95.94,229.29 96.57,225.99 97.00,229.63 97.38,233.42 97.89,234.44 98.22,230.85 98.98,228.37 99.39,223.17 99.99,227.66 100.51,232.17 100.89,234.44 101.46,231.66 102.30,228.89 102.77,224.11 103.17,227.97 103.79,230.00 104.08,232.56 104.76,228.38 105.37,225.44 105.96,221.29 106.23,225.24 107.04,229.54 107.28,231.62 107.87,229.03 108.37,227.53 108.78,225.05 109.38,228.14 109.86,229.70 110.66,230.68 111.10,231.36 111.90,230.34 112.54,231.62 113.24,232.55 113.83,235.01 114.41,234.44 114.94,233.93 115.59,237.58 116.29,238.19 116.67,234.81 117.45,234.39 117.79,231.62 118.21,235.22 118.60,236.60 119.11,238.19 119.30,236.07 119.86,235.93 120.05,232.56 120.70,237.15 121.08,241.91 121.55,247.58 121.84,242.56 122.56,238.82 122.86,232.56 123.39,237.00 123.65,237.00 124.18,241.01 124.66,237.38 125.07,235.07 125.68,232.56 126.36,233.16 126.86,235.03 127.56,234.44 128.38,234.89 128.64,234.00 129.44,236.31 130.09,233.10 130.52,233.44 130.94,231.62 131.49,230.79 132.00,226.55 132.82,225.99 133.24,227.72 133.83,231.93 134.13,236.31 134.61,236.25 135.44,239.25 136.01,241.01 136.69,242.19 137.38,243.91 137.89,242.89 138.40,237.11 138.75,232.34 139.20,228.80 139.51,231.21 140.29,232.66 140.70,236.31 141.24,237.32 142.04,239.52 142.58,241.01 143.25,239.74 143.79,237.68 144.46,234.44 145.12,231.39 145.63,232.11 145.96,229.74 146.25,232.39 146.89,236.85 147.28,238.19 147.85,239.69 148.68,241.76 149.15,241.95 149.77,240.25 150.09,237.76 150.47,237.25 151.18,235.90 151.78,233.03 152.35,229.74 152.73,235.25 153.54,239.60 153.85,241.95 154.37,244.25 154.78,245.93 155.35,245.70 156.12,242.03 156.44,239.23 157.23,236.31 157.88,235.09 158.48,230.23 159.11,229.74 159.67,233.18 160.10,238.58 160.42,244.77 160.98,242.98 161.53,237.87 162.30,236.31 162.93,234.62 163.69,231.99 164.18,228.80 164.79,225.96 165.23,221.68 165.49,220.35 165.88,225.14 166.41,230.57 167.00,234.44 167.76,231.37 168.55,228.36 169.13,225.00 169.67,222.07 170.51,221.44 171.00,217.50 171.38,222.20 172.19,224.46 172.50,227.81 173.03,228.30 173.51,230.95 174.00,232.50 174.48,231.74 175.06,234.44 175.31,235.32 175.71,234.84 176.21,232.16 176.63,230.63 177.33,224.06 177.89,220.32 178.50,215.63 179.18,223.40 179.41,228.03 180.00,234.38 180.35,232.26 181.13,232.07 181.50,228.75 182.12,228.72 182.63,230.43 183.38,230.63 184.17,224.29 184.74,218.91 185.25,215.63 185.57,219.33 186.20,224.36 186.56,229.69 186.94,231.06 187.28,232.40 187.88,232.50 188.10,227.54 188.53,221.41 189.00,217.50 189.64,214.77 190.20,212.19 190.88,210.00 191.33,211.90 191.63,216.72 192.19,219.38 192.87,223.23 193.58,227.28 194.06,230.63 194.64,225.91 195.04,224.24 195.38,219.38 196.04,217.15 196.30,217.77 196.88,214.69 197.26,219.30 198.03,219.00 198.38,223.13 198.71,229.26 199.16,232.30 199.69,239.07 200.26,235.03 200.68,230.22 201.00,227.81 201.46,226.29 201.81,222.36 202.50,221.25 203.08,224.92 203.69,224.24 204.00,227.81 204.44,226.24 204.88,223.48 205.32,220.31 205.63,224.39 206.03,229.90 206.63,237.19 207.15,233.49 207.66,228.42 208.13,225.94 208.50,222.69 209.26,223.33 209.63,219.38 210.24,222.29 210.33,229.75 210.94,232.50 211.36,234.39 211.75,234.26 212.25,235.32 212.76,233.50 213.29,230.44 213.75,230.63 214.33,230.62 214.63,227.96 215.25,226.88 215.79,229.04 216.01,230.67 216.57,234.38 217.01,229.20 217.60,228.59 217.88,224.06 218.46,227.55 218.93,228.10 219.38,230.63 219.92,228.77 220.57,227.97 220.88,225.00 221.22,229.61 221.85,232.25 222.19,234.38 222.63,235.91 222.97,239.50 223.13,240.00 223.71,235.34 224.23,228.41 224.63,223.13 225.16,224.08 225.44,228.01 225.94,230.63 226.18,231.36 226.87,233.57 227.25,234.38 227.65,230.04 228.32,221.92 228.75,216.56 229.32,221.50 229.77,225.54 230.25,230.63 230.89,228.01 231.21,225.32 231.57,221.25 232.20,223.91 232.49,230.86 232.88,234.38" fill="none" stroke="#679c32" stroke-width="1.5" stroke-linejoin="round"/>
<text x="22.3" y="196.5" font-size="7.0" text-anchor="end" fill="#000">8</text>
<text x="22.3" y="211.0" font-size="7.0" text-anchor="end" fill="#000">6</text>
<text x="22.3" y="225.5" font-size="7.0" text-anchor="end" fill="#000">4</text>
<text x="22.3" y="240.0" font-size="7.0" text-anchor="end" fill="#000">2</text>
<text x="22.3" y="254.5" font-size="7.0" text-anchor="end" fill="#000">0</text>
<text x="28.3" y="262.7" font-size="7.0" text-anchor="middle" fill="#000">0</text>
<text x="55.8" y="262.7" font-size="7.0" text-anchor="middle" fill="#000">100</text>
<text x="83.3" y="262.7" font-size="7.0" text-anchor="middle" fill="#000">200</text>
<text x="110.8" y="262.7" font-size="7.0" text-anchor="middle" fill="#000">300</text>
<text x="138.3" y="262.7" font-size="7.0" text-anchor="middle" fill="#000">400</text>
<text x="165.8" y="262.7" font-size="7.0" text-anchor="middle" fill="#000">500</text>
<text x="193.3" y="262.7" font-size="7.0" text-anchor="middle" fill="#000">600</text>
<text x="220.8" y="262.7" font-size="7.0" text-anchor="middle" fill="#000">700</text>
<text x="248.3" y="262.7" font-size="7.0" text-anchor="middle" fill="#000">800</text>
<text x="100.7" y="185.1" font-size="8.4" fill="#000" textLength="61.4" lengthAdjust="spacingAndGlyphs" stroke="#000" stroke-width="0.25">Wind Speed Plot</text>
<text x="123.3" y="271.9" font-size="6.8" fill="#000" textLength="30.4" lengthAdjust="spacingAndGlyphs">Time(hrs)</text>
<text transform="translate(15.8,251.8) rotate(-90)" font-size="6.6" textLength="55.5" lengthAdjust="spacingAndGlyphs">Wind Speed(m/s)</text>
<text x="143.2" y="288.8" font-size="10" text-anchor="middle" fill="#000">(c)</text>
<line x1="317.4" y1="194" x2="317.4" y2="252" stroke="#bfbfbf" stroke-width="0.8"/>
<line x1="317.4" y1="251.9" x2="535.3" y2="251.9" stroke="#bfbfbf" stroke-width="0.8"/>
<polyline points="317.40,218.52 317.67,220.70 317.94,245.87 318.22,230.22 318.49,228.94 318.76,221.55 319.03,219.18 319.30,227.68 319.58,238.24 319.85,238.92 320.12,239.39 320.39,221.89 320.66,248.33 320.94,222.07 321.21,237.15 321.48,238.27 321.75,219.08 322.02,241.34 322.30,214.09 322.57,219.22 322.84,238.27 323.11,235.17 323.38,207.65 323.66,240.04 323.93,238.48 324.20,246.99 324.47,222.04 324.74,232.42 325.02,239.91 325.29,221.38 325.56,236.93 325.83,251.66 326.10,238.32 326.38,221.74 326.65,220.90 326.92,222.55 327.19,229.80 327.46,244.79 327.74,213.49 328.01,246.72 328.28,230.50 328.55,249.22 328.82,210.85 329.10,231.34 329.37,231.80 329.64,210.71 329.91,239.37 330.18,240.10 330.46,244.21 330.73,240.12 331.00,219.31 331.27,248.62 331.54,220.32 331.82,226.75 332.09,208.59 332.36,244.89 332.63,208.08 332.90,210.57 333.18,246.57 333.45,209.14 333.72,245.56 333.99,219.97 334.26,244.41 334.54,235.53 334.81,219.69 335.08,241.01 335.35,237.34 335.62,232.83 335.90,234.95 336.17,230.29 336.44,212.56 336.71,240.17 336.98,231.24 337.26,224.01 337.53,213.58 337.80,241.68 338.07,240.14 338.34,222.18 338.62,246.27 338.89,218.74 339.16,236.42 339.43,238.51 339.70,239.67 339.98,218.38 340.25,210.02 340.52,221.44 340.79,239.25 341.06,220.65 341.34,227.60 341.61,242.99 341.88,212.31 342.15,221.60 342.42,221.30 342.70,227.84 342.97,241.06 343.24,212.12 343.51,239.03 343.78,219.42 344.06,238.83 344.33,243.59 344.60,211.21 344.87,241.12 345.14,239.43 345.42,238.61 345.69,224.03 345.96,223.92 346.23,219.26 346.50,239.95 346.78,222.13 347.05,221.78 347.32,214.07 347.59,209.27 347.86,223.82 348.14,227.19 348.41,238.44 348.68,222.52 348.95,227.79 349.22,213.94 349.50,231.76 349.77,237.28 350.04,243.46 350.31,230.86 350.58,218.53 350.86,241.78 351.13,227.44 351.40,240.65 351.67,221.66 351.94,238.46 352.22,231.90 352.49,219.83 352.76,226.81 353.03,236.13 353.30,244.17 353.58,222.69 353.85,238.53 354.12,222.30 354.39,243.81 354.66,227.55 354.94,220.02 355.21,238.50 355.48,220.84 355.75,241.60 356.02,222.38 356.30,234.80 356.57,223.01 356.84,220.68 357.11,240.28 357.38,222.10 357.66,245.85 357.93,233.91 358.20,235.50 358.47,234.24 358.74,211.63 359.02,243.33 359.29,238.49 359.56,219.49 359.83,234.82 360.10,234.32 360.38,231.39 360.65,239.65 360.92,209.16 361.19,234.14 361.46,211.19 361.74,238.35 362.01,220.32 362.28,240.00 362.55,237.05 362.82,213.87 363.10,237.41 363.37,239.25 363.64,222.66 363.91,241.66 364.18,221.39 364.46,228.97 364.73,251.66 365.00,251.66 365.27,211.58 365.54,247.98 365.82,212.66 366.09,232.92 366.36,225.02 366.63,238.56 366.90,234.07 367.18,230.92 367.45,219.62 367.72,234.84 367.99,231.86 368.26,231.05 368.54,207.89 368.81,211.11 369.08,248.80 369.35,219.11 369.62,238.36 369.90,233.77 370.17,219.33 370.44,238.33 370.71,232.14 370.98,243.00 371.26,230.91 371.53,220.15 371.80,238.44 372.07,211.08 372.34,221.38 372.62,240.82 372.89,248.32 373.16,242.66 373.43,224.30 373.70,214.01 373.98,246.78 374.25,221.91 374.52,244.46 374.79,232.24 375.06,221.41 375.34,242.43 375.61,210.77 375.88,235.36 376.15,225.96 376.42,244.45 376.70,209.83 376.97,238.27 377.24,221.05 377.51,239.34 377.78,211.42 378.06,209.33 378.33,243.82 378.60,210.54 378.87,236.94 379.14,232.17 379.42,212.07 379.69,242.51 379.96,225.34 380.23,244.45 380.50,242.56 380.78,207.89 381.05,221.55 381.32,238.27 381.59,207.87 381.86,239.53 382.14,226.45 382.41,218.77 382.68,233.03 382.95,227.60 383.22,241.18 383.50,220.24 383.77,211.29 384.04,243.67 384.31,207.39 384.58,237.75 384.86,228.62 385.13,238.59 385.40,209.08 385.67,229.95 385.94,218.94 386.22,219.64 386.49,238.37 386.76,235.58 387.03,235.66 387.30,209.03 387.58,207.69 387.85,244.25 388.12,236.51 388.39,234.73 388.66,208.98 388.94,231.35 389.21,238.41 389.48,210.73 389.75,219.35 390.02,238.41 390.30,218.63 390.57,240.24 390.84,240.85 391.11,232.49 391.38,220.90 391.66,226.84 391.93,233.62 392.20,230.08 392.47,239.63 392.74,219.12 393.02,225.13 393.29,238.92 393.56,222.58 393.83,221.55 394.10,238.37 394.38,221.89 394.65,221.03 394.92,241.64 395.19,222.66 395.46,225.07 395.74,218.64 396.01,218.75 396.28,224.87 396.55,212.71 396.82,240.74 397.10,226.83 397.37,235.37 397.64,218.72 397.91,238.28 398.18,242.40 398.46,234.21 398.73,238.29 399.00,230.91 399.27,225.34 399.54,238.65 399.82,244.27 400.09,236.37 400.36,220.64 400.63,220.23 400.90,228.91 401.18,241.34 401.45,211.28 401.72,245.81 401.99,229.68 402.26,231.66 402.54,220.77 402.81,220.40 403.08,207.24 403.35,248.35 403.62,230.57 403.90,251.66 404.17,228.80 404.44,240.01 404.71,220.75 404.98,236.76 405.26,249.05 405.53,233.54 405.80,219.03 406.07,243.24 406.34,233.75 406.62,212.99 406.89,237.38 407.16,238.27 407.43,224.13 407.70,238.31 407.98,209.91 408.25,248.68 408.52,237.17 408.79,220.72 409.06,213.76 409.34,219.38 409.61,233.15 409.88,225.26 410.15,222.12 410.42,233.75 410.70,238.42 410.97,219.98 411.24,238.60 411.51,220.20 411.78,239.34 412.06,210.31 412.33,245.42 412.60,221.64 412.87,219.95 413.14,219.31 413.42,242.84 413.69,218.38 413.96,243.93 414.23,231.26 414.50,219.55 414.78,221.45 415.05,222.08 415.32,213.51 415.59,238.29 415.86,220.49 416.14,222.36 416.41,241.15 416.68,221.33 416.95,220.31 417.22,238.77 417.50,239.73 417.77,239.35 418.04,222.58 418.31,240.10 418.58,212.23 418.86,240.25 419.13,221.90 419.40,238.40 419.67,222.42 419.94,243.77 420.22,226.28 420.49,228.31 420.76,232.16 421.03,225.91 421.30,225.16 421.58,210.78 421.85,221.30 422.12,239.67 422.39,238.44 422.66,241.97 422.94,222.08 423.21,241.34 423.48,241.44 423.75,209.20 424.02,220.56 424.30,224.70 424.57,220.38 424.84,238.63 425.11,238.75 425.38,219.88 425.66,233.57 425.93,227.00 426.20,240.11 426.47,211.60 426.74,219.69 427.02,233.80 427.29,238.31 427.56,225.13 427.83,230.41 428.10,240.00 428.38,208.81 428.65,219.55 428.92,238.28 429.19,238.65 429.46,232.44 429.74,231.93 430.01,234.49 430.28,230.92 430.55,222.07 430.82,221.83 431.10,239.74 431.37,230.45 431.64,219.70 431.91,208.62 432.18,241.94 432.46,221.96 432.73,242.30 433.00,218.98 433.27,241.63 433.54,222.80 433.82,230.97 434.09,238.17 434.36,221.34 434.63,238.57 434.90,237.27 435.18,240.71 435.45,209.94 435.72,240.33 435.99,238.96 436.26,224.26 436.54,229.06 436.81,226.86 437.08,220.96 437.35,221.41 437.62,241.53 437.90,227.28 438.17,220.48 438.44,238.64 438.71,230.56 438.98,226.70 439.26,233.29 439.53,233.08 439.80,221.25 440.07,239.93 440.34,226.57 440.62,211.92 440.89,247.21 441.16,234.36 441.43,233.74 441.70,220.51 441.98,241.01 442.25,220.88 442.52,230.74 442.79,251.66 443.06,251.66 443.34,238.48 443.61,238.36 443.88,227.52 444.15,227.01 444.42,230.44 444.70,232.57 444.97,208.28 445.24,220.66 445.51,238.49 445.78,207.56 446.06,246.94 446.33,209.09 446.60,238.76 446.87,240.49 447.14,227.64 447.42,221.52 447.69,224.23 447.96,241.55 448.23,208.73 448.50,243.00 448.78,222.24 449.05,229.70 449.32,229.24 449.59,234.42 449.86,239.03 450.14,221.95 450.41,239.20 450.68,236.39 450.95,208.32 451.22,238.73 451.50,237.15 451.77,225.92 452.04,218.94 452.31,244.26 452.58,220.21 452.86,237.65 453.13,230.42 453.40,236.89 453.67,231.95 453.94,245.23 454.22,221.03 454.49,245.28 454.76,222.79 455.03,238.27 455.30,219.79 455.58,243.23 455.85,222.46 456.12,228.11 456.39,218.84 456.66,238.36 456.94,230.28 457.21,211.79 457.48,243.98 457.75,209.60 458.02,240.23 458.30,220.79 458.57,238.39 458.84,221.48 459.11,233.64 459.38,231.40 459.66,239.34 459.93,221.78 460.20,222.91 460.47,240.09 460.74,209.13 461.02,242.45 461.29,220.52 461.56,241.59 461.83,209.50 462.10,241.76 462.38,209.85 462.65,225.33 462.92,229.83 463.19,242.19 463.46,239.73 463.74,239.10 464.01,238.35 464.28,208.65 464.55,239.99 464.82,208.55 465.10,239.63 465.37,242.10 465.64,240.31 465.91,209.18 466.18,240.07 466.46,218.44 466.73,238.29 467.00,222.33 467.27,233.15 467.54,220.23 467.82,239.17 468.09,232.03 468.36,236.22 468.63,232.87 468.90,239.35 469.18,233.24 469.45,220.43 469.72,235.80 469.99,239.94 470.26,212.00 470.54,244.44 470.81,218.30 471.08,243.58 471.35,233.01 471.62,244.97 471.90,221.33 472.17,220.88 472.44,239.29 472.71,219.27 472.98,231.02 473.26,234.19 473.53,241.04 473.80,221.15 474.07,237.77 474.34,231.32 474.62,226.70 474.89,239.46 475.16,220.62 475.43,236.81 475.70,239.37 475.98,207.61 476.25,240.50 476.52,221.76 476.79,229.32 477.06,230.63 477.34,219.24 477.61,222.01 477.88,247.39 478.15,221.45 478.42,246.58 478.70,221.55 478.97,213.97 479.24,238.75 479.51,229.41 479.78,218.49 480.06,214.03 480.33,238.88 480.60,243.04 480.87,221.94 481.14,236.34 481.42,221.94 481.69,240.60 481.96,251.66 482.23,207.66 482.50,230.39 482.78,227.30 483.05,239.60 483.32,219.71 483.59,219.21 483.86,242.69 484.14,220.92 484.41,237.91 484.68,239.25 484.95,237.88 485.22,219.74 485.50,239.02 485.77,209.68 486.04,223.02 486.31,238.60 486.58,209.02 486.86,239.83 487.13,220.26 487.40,238.38 487.67,228.28 487.94,243.12 488.22,241.52 488.49,219.35 488.76,248.81 489.03,210.07 489.30,238.57 489.58,219.10 489.85,222.23 490.12,243.71 490.39,220.13 490.66,248.88 490.94,225.73 491.21,221.77 491.48,247.07 491.75,209.79 492.02,243.36 492.30,221.19 492.57,240.99 492.84,219.39 493.11,245.97 493.38,229.07 493.66,238.75 493.93,211.92 494.20,247.05 494.47,219.70 494.74,223.70 495.02,235.00 495.29,243.33 495.56,218.33 495.83,222.74 496.10,239.01 496.38,241.35 496.65,227.81 496.92,221.90 497.19,238.27 497.46,222.49 497.74,239.20 498.01,210.16 498.28,243.32 498.55,236.32 498.82,238.27 499.10,209.27 499.37,242.49 499.64,221.16 499.91,238.68 500.18,238.57 500.46,225.75 500.73,212.31 501.00,238.70 501.27,213.23 501.54,239.21 501.82,232.85 502.09,207.32 502.36,239.67 502.63,233.99 502.90,210.54 503.18,233.90 503.45,236.31 503.72,240.23 503.99,225.02 504.26,223.58 504.54,238.71 504.81,210.96 505.08,242.14 505.35,241.71 505.62,220.92 505.90,238.27 506.17,244.27 506.44,218.26 506.71,240.15 506.98,221.42 507.26,244.38 507.53,244.53 507.80,237.02 508.07,240.73 508.34,236.54 508.62,236.09 508.89,225.49 509.16,235.41 509.43,219.85 509.70,242.58 509.98,231.02 510.25,211.16 510.52,238.36 510.79,228.36 511.06,221.10 511.34,245.47 511.61,220.50 511.88,231.55 512.15,227.01 512.42,221.07 512.70,238.67 512.97,220.80 513.24,239.52 513.51,227.46 513.78,220.97 514.06,220.37 514.33,239.05 514.60,222.44 514.87,226.59 515.14,229.84 515.42,218.45 515.69,235.82 515.96,238.84 516.23,238.92 516.50,210.02 516.78,238.56 517.05,222.43 517.32,213.80 517.59,209.17 517.86,248.24 518.14,218.47 518.41,222.35 518.68,241.13 518.95,225.17 519.22,220.58 519.50,239.79 519.77,245.95 520.04,226.76 520.31,207.58" fill="none" stroke="#fb6a0c" stroke-width="1.5" stroke-linejoin="round"/>
<text x="311.2" y="197.3" font-size="7.0" text-anchor="end" fill="#000">5000</text>
<text x="311.2" y="208.74" font-size="7.0" text-anchor="end" fill="#000">4000</text>
<text x="311.2" y="220.18" font-size="7.0" text-anchor="end" fill="#000">3000</text>
<text x="311.2" y="231.62" font-size="7.0" text-anchor="end" fill="#000">2000</text>
<text x="311.2" y="243.06" font-size="7.0" text-anchor="end" fill="#000">1000</text>
<text x="311.2" y="254.5" font-size="7.0" text-anchor="end" fill="#000">0</text>
<text x="317.4" y="263.1" font-size="7.0" text-anchor="middle" fill="#000">0</text>
<text x="344.6" y="263.1" font-size="7.0" text-anchor="middle" fill="#000">100</text>
<text x="371.8" y="263.1" font-size="7.0" text-anchor="middle" fill="#000">200</text>
<text x="399.0" y="263.1" font-size="7.0" text-anchor="middle" fill="#000">300</text>
<text x="426.2" y="263.1" font-size="7.0" text-anchor="middle" fill="#000">400</text>
<text x="453.4" y="263.1" font-size="7.0" text-anchor="middle" fill="#000">500</text>
<text x="480.6" y="263.1" font-size="7.0" text-anchor="middle" fill="#000">600</text>
<text x="507.8" y="263.1" font-size="7.0" text-anchor="middle" fill="#000">700</text>
<text x="535.0" y="263.1" font-size="7.0" text-anchor="middle" fill="#000">800</text>
<text x="389" y="185.1" font-size="8.4" fill="#000" textLength="49" lengthAdjust="spacingAndGlyphs" stroke="#000" stroke-width="0.25">Actual Values</text>
<text x="411.2" y="272" font-size="6.8" fill="#000" textLength="30.8" lengthAdjust="spacingAndGlyphs">Time(hrs)</text>
<text transform="translate(293.2,245) rotate(-90)" font-size="6.6" textLength="44" lengthAdjust="spacingAndGlyphs">Power (watts)</text>
<text x="423.2" y="289.2" font-size="10" text-anchor="middle" fill="#000">(d)</text>
</g>
</svg>
</body></html>
